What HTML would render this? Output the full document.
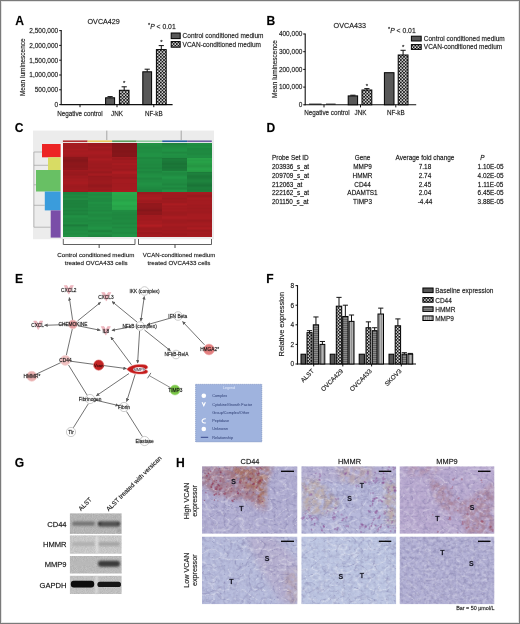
<!DOCTYPE html>
<html><head><meta charset="utf-8"><title>Figure</title>
<style>
html,body{margin:0;padding:0;background:#fff;}
body{width:520px;height:624px;overflow:hidden;}
svg{display:block;}
svg text{font-family:"Liberation Sans",Arial,sans-serif;stroke:#000;stroke-opacity:0.45;stroke-width:0.28px;}
</style></head><body>
<svg width="520" height="624" viewBox="0 0 520 624">
<defs>
<pattern id="chk" patternUnits="userSpaceOnUse" width="3.2" height="3.2"><rect width="3.2" height="3.2" fill="#111"/><rect x="0.15" y="0.15" width="1.5" height="1.5" fill="#f4f4f4"/><rect x="1.75" y="1.75" width="1.5" height="1.5" fill="#f4f4f4"/></pattern>
<pattern id="hln" patternUnits="userSpaceOnUse" width="4" height="2"><rect width="4" height="2" fill="#8a8a8a"/><rect y="1.2" width="4" height="0.8" fill="#5a5a5a"/></pattern>
<pattern id="vln" patternUnits="userSpaceOnUse" width="2" height="4"><rect width="2" height="4" fill="#b5b5b5"/><rect x="1.2" width="0.8" height="4" fill="#888"/></pattern>
</defs>
<rect x="0.5" y="0.5" width="519" height="623" fill="none" stroke="#7a7a7a" stroke-width="1"/>
<rect x="1.5" y="1.5" width="517" height="621" fill="none" stroke="#e4e4e4" stroke-width="1"/>
<text transform="translate(15.20,24.50) scale(0.96,1)" font-size="12.6" font-weight="bold" fill="#000">A</text>
<text x="87.50" y="24.00" font-size="7.2" text-anchor="start" font-weight="normal" fill="#222" >OVCA429</text>
<line x1="61.20" y1="30.10" x2="61.20" y2="105.10" stroke="#111" stroke-width="1.1" />
<line x1="59.20" y1="104.60" x2="61.20" y2="104.60" stroke="#111" stroke-width="1" />
<text x="58.20" y="106.90" font-size="6.5" text-anchor="end" font-weight="normal" fill="#222" >0</text>
<line x1="59.20" y1="89.80" x2="61.20" y2="89.80" stroke="#111" stroke-width="1" />
<text x="58.20" y="92.10" font-size="6.5" text-anchor="end" font-weight="normal" fill="#222" >500,000</text>
<line x1="59.20" y1="75.00" x2="61.20" y2="75.00" stroke="#111" stroke-width="1" />
<text x="58.20" y="77.30" font-size="6.5" text-anchor="end" font-weight="normal" fill="#222" >1,000,000</text>
<line x1="59.20" y1="60.20" x2="61.20" y2="60.20" stroke="#111" stroke-width="1" />
<text x="58.20" y="62.50" font-size="6.5" text-anchor="end" font-weight="normal" fill="#222" >1,500,000</text>
<line x1="59.20" y1="45.40" x2="61.20" y2="45.40" stroke="#111" stroke-width="1" />
<text x="58.20" y="47.70" font-size="6.5" text-anchor="end" font-weight="normal" fill="#222" >2,000,000</text>
<line x1="59.20" y1="30.60" x2="61.20" y2="30.60" stroke="#111" stroke-width="1" />
<text x="58.20" y="32.90" font-size="6.5" text-anchor="end" font-weight="normal" fill="#222" >2,500,000</text>
<line x1="60.60" y1="104.60" x2="172.60" y2="104.60" stroke="#111" stroke-width="1.1" />
<line x1="80.00" y1="104.60" x2="80.00" y2="107.20" stroke="#111" stroke-width="1" />
<line x1="117.00" y1="104.60" x2="117.00" y2="107.20" stroke="#111" stroke-width="1" />
<line x1="153.80" y1="104.60" x2="153.80" y2="107.20" stroke="#111" stroke-width="1" />
<text x="80.00" y="115.60" font-size="6.3" text-anchor="middle" font-weight="normal" fill="#222" >Negative control</text>
<text x="117.00" y="115.60" font-size="6.3" text-anchor="middle" font-weight="normal" fill="#222" >JNK</text>
<text x="153.80" y="115.60" font-size="6.3" text-anchor="middle" font-weight="normal" fill="#222" >NF-kB</text>
<text transform="translate(24.8,67.2) rotate(-90)" font-size="6.5" text-anchor="middle" fill="#222">Mean luminescence</text>
<rect x="105.60" y="97.80" width="9.00" height="6.80" fill="#585858" stroke="#000" stroke-width="1"/>
<line x1="110.10" y1="97.80" x2="110.10" y2="96.60" stroke="#111" stroke-width="1" />
<line x1="107.50" y1="96.60" x2="112.70" y2="96.60" stroke="#111" stroke-width="1" />
<rect x="119.40" y="90.30" width="9.60" height="14.30" fill="url(#chk)" stroke="#000" stroke-width="1"/>
<line x1="124.20" y1="90.30" x2="124.20" y2="86.80" stroke="#111" stroke-width="1" />
<line x1="121.60" y1="86.80" x2="126.80" y2="86.80" stroke="#111" stroke-width="1" />
<rect x="142.80" y="71.80" width="8.80" height="32.80" fill="#585858" stroke="#000" stroke-width="1"/>
<line x1="147.20" y1="71.80" x2="147.20" y2="69.20" stroke="#111" stroke-width="1" />
<line x1="144.60" y1="69.20" x2="149.80" y2="69.20" stroke="#111" stroke-width="1" />
<rect x="156.40" y="49.60" width="9.80" height="55.00" fill="url(#chk)" stroke="#000" stroke-width="1"/>
<line x1="161.30" y1="49.60" x2="161.30" y2="45.60" stroke="#111" stroke-width="1" />
<line x1="158.70" y1="45.60" x2="163.90" y2="45.60" stroke="#111" stroke-width="1" />
<text x="124.20" y="84.80" font-size="6" text-anchor="middle" font-weight="normal" fill="#222" >*</text>
<text x="161.30" y="44.00" font-size="6" text-anchor="middle" font-weight="normal" fill="#222" >*</text>
<rect x="171.20" y="33.00" width="9.00" height="5.60" fill="#585858" stroke="#000" stroke-width="1"/>
<rect x="171.20" y="41.60" width="9.00" height="5.60" fill="url(#chk)" stroke="#000" stroke-width="1"/>
<text x="182.60" y="38.30" font-size="6.5" text-anchor="start" font-weight="normal" fill="#222" >Control conditioned medium</text>
<text x="182.60" y="46.90" font-size="6.5" text-anchor="start" font-weight="normal" fill="#222" >VCAN-conditioned medium</text>
<text x="148.0" y="29.0" font-size="6.8" fill="#222"><tspan font-size="5.5" dy="-1.6">*</tspan><tspan font-style="italic" dy="1.6">P</tspan> &lt; 0.01</text>
<text transform="translate(266.40,24.80) scale(0.96,1)" font-size="12.6" font-weight="bold" fill="#000">B</text>
<text x="333.60" y="27.90" font-size="7.2" text-anchor="start" font-weight="normal" fill="#222" >OVCA433</text>
<line x1="305.20" y1="33.60" x2="305.20" y2="105.30" stroke="#111" stroke-width="1.1" />
<line x1="303.20" y1="104.80" x2="305.20" y2="104.80" stroke="#111" stroke-width="1" />
<text x="302.40" y="107.10" font-size="6.5" text-anchor="end" font-weight="normal" fill="#222" >0</text>
<line x1="303.20" y1="87.10" x2="305.20" y2="87.10" stroke="#111" stroke-width="1" />
<text x="302.40" y="89.40" font-size="6.5" text-anchor="end" font-weight="normal" fill="#222" >100,000</text>
<line x1="303.20" y1="69.40" x2="305.20" y2="69.40" stroke="#111" stroke-width="1" />
<text x="302.40" y="71.70" font-size="6.5" text-anchor="end" font-weight="normal" fill="#222" >200,000</text>
<line x1="303.20" y1="51.70" x2="305.20" y2="51.70" stroke="#111" stroke-width="1" />
<text x="302.40" y="54.00" font-size="6.5" text-anchor="end" font-weight="normal" fill="#222" >300,000</text>
<line x1="303.20" y1="34.00" x2="305.20" y2="34.00" stroke="#111" stroke-width="1" />
<text x="302.40" y="36.30" font-size="6.5" text-anchor="end" font-weight="normal" fill="#222" >400,000</text>
<line x1="304.60" y1="104.80" x2="416.20" y2="104.80" stroke="#111" stroke-width="1.1" />
<line x1="324.00" y1="104.80" x2="324.00" y2="107.40" stroke="#111" stroke-width="1" />
<line x1="360.50" y1="104.80" x2="360.50" y2="107.40" stroke="#111" stroke-width="1" />
<line x1="395.80" y1="104.80" x2="395.80" y2="107.40" stroke="#111" stroke-width="1" />
<text x="327.00" y="115.20" font-size="6.3" text-anchor="middle" font-weight="normal" fill="#222" >Negative control</text>
<text x="360.50" y="115.20" font-size="6.3" text-anchor="middle" font-weight="normal" fill="#222" >JNK</text>
<text x="395.80" y="115.20" font-size="6.3" text-anchor="middle" font-weight="normal" fill="#222" >NF-kB</text>
<text transform="translate(276.7,69.0) rotate(-90)" font-size="6.5" text-anchor="middle" fill="#222">Mean luminescence</text>
<rect x="309.00" y="103.60" width="12.60" height="1.20" fill="#222" />
<rect x="326.00" y="103.60" width="9.60" height="1.20" fill="#222" />
<rect x="348.20" y="95.90" width="9.40" height="8.90" fill="#585858" stroke="#000" stroke-width="1"/>
<line x1="352.90" y1="95.90" x2="352.90" y2="95.20" stroke="#111" stroke-width="1" />
<line x1="350.30" y1="95.20" x2="355.50" y2="95.20" stroke="#111" stroke-width="1" />
<rect x="362.00" y="90.00" width="9.80" height="14.80" fill="url(#chk)" stroke="#000" stroke-width="1"/>
<line x1="366.90" y1="90.00" x2="366.90" y2="88.60" stroke="#111" stroke-width="1" />
<line x1="364.30" y1="88.60" x2="369.50" y2="88.60" stroke="#111" stroke-width="1" />
<rect x="384.40" y="72.70" width="9.60" height="32.10" fill="#585858" stroke="#000" stroke-width="1"/>
<rect x="398.20" y="55.00" width="9.80" height="49.80" fill="url(#chk)" stroke="#000" stroke-width="1"/>
<line x1="403.10" y1="55.00" x2="403.10" y2="50.30" stroke="#111" stroke-width="1" />
<line x1="400.50" y1="50.30" x2="405.70" y2="50.30" stroke="#111" stroke-width="1" />
<text x="367.00" y="88.00" font-size="6" text-anchor="middle" font-weight="normal" fill="#222" >*</text>
<text x="403.10" y="48.60" font-size="6" text-anchor="middle" font-weight="normal" fill="#222" >*</text>
<rect x="411.40" y="36.20" width="9.80" height="4.80" fill="#585858" stroke="#000" stroke-width="1"/>
<rect x="411.40" y="44.60" width="9.80" height="4.80" fill="url(#chk)" stroke="#000" stroke-width="1"/>
<text x="423.80" y="40.90" font-size="6.5" text-anchor="start" font-weight="normal" fill="#222" >Control conditioned medium</text>
<text x="423.80" y="49.30" font-size="6.5" text-anchor="start" font-weight="normal" fill="#222" >VCAN-conditioned medium</text>
<text x="388.0" y="32.8" font-size="6.8" fill="#222"><tspan font-size="5.5" dy="-1.6">*</tspan><tspan font-style="italic" dy="1.6">P</tspan> &lt; 0.01</text>
<text transform="translate(14.80,132.20) scale(0.96,1)" font-size="12.6" font-weight="bold" fill="#000">C</text>
<rect x="33.00" y="130.60" width="181.00" height="108.60" fill="#ececec" />
<line x1="106.80" y1="130.60" x2="106.80" y2="140.20" stroke="#888" stroke-width="0.7" />
<line x1="181.20" y1="130.60" x2="181.20" y2="140.20" stroke="#888" stroke-width="0.7" />
<rect x="62.90" y="140.20" width="148.90" height="3.00" fill="#f2f2f2" />
<rect x="62.90" y="140.40" width="24.70" height="1.70" fill="#b03030" />
<rect x="87.60" y="140.40" width="24.50" height="1.70" fill="#e8c860" />
<rect x="112.10" y="140.40" width="24.50" height="1.70" fill="#60a060" />
<rect x="136.60" y="140.40" width="25.60" height="1.70" fill="#90c8a0" />
<rect x="162.20" y="140.40" width="24.90" height="1.70" fill="#2860a0" />
<rect x="187.10" y="140.40" width="24.70" height="1.70" fill="#7060a0" />
<g shape-rendering="crispEdges">
<rect x="62.90" y="143.20" width="25.10" height="0.80" fill="rgb(165,27,32)" />
<rect x="62.90" y="144.00" width="25.10" height="1.00" fill="rgb(166,27,32)" />
<rect x="62.90" y="145.00" width="25.10" height="1.00" fill="rgb(163,27,32)" />
<rect x="62.90" y="146.00" width="25.10" height="1.00" fill="rgb(164,27,32)" />
<rect x="62.90" y="147.00" width="25.10" height="1.00" fill="rgb(163,27,32)" />
<rect x="62.90" y="148.00" width="25.10" height="1.00" fill="rgb(165,27,32)" />
<rect x="62.90" y="149.00" width="25.10" height="1.00" fill="rgb(169,28,33)" />
<rect x="62.90" y="150.00" width="25.10" height="1.00" fill="rgb(166,27,32)" />
<rect x="62.90" y="151.00" width="25.10" height="1.00" fill="rgb(164,27,32)" />
<rect x="62.90" y="152.00" width="25.10" height="1.00" fill="rgb(167,27,32)" />
<rect x="62.90" y="153.00" width="25.10" height="1.00" fill="rgb(168,27,33)" />
<rect x="62.90" y="154.00" width="25.10" height="1.00" fill="rgb(166,27,32)" />
<rect x="62.90" y="155.00" width="25.10" height="1.00" fill="rgb(163,27,32)" />
<rect x="62.90" y="156.00" width="25.10" height="1.00" fill="rgb(159,26,31)" />
<rect x="62.90" y="157.00" width="25.10" height="1.00" fill="rgb(139,23,27)" />
<rect x="62.90" y="158.00" width="25.10" height="1.00" fill="rgb(139,23,27)" />
<rect x="62.90" y="159.00" width="25.10" height="1.00" fill="rgb(135,22,26)" />
<rect x="62.90" y="160.00" width="25.10" height="1.00" fill="rgb(133,22,26)" />
<rect x="62.90" y="161.00" width="25.10" height="1.00" fill="rgb(135,22,26)" />
<rect x="62.90" y="162.00" width="25.10" height="1.00" fill="rgb(139,23,27)" />
<rect x="62.90" y="163.00" width="25.10" height="1.00" fill="rgb(141,23,27)" />
<rect x="62.90" y="164.00" width="25.10" height="1.00" fill="rgb(142,23,27)" />
<rect x="62.90" y="165.00" width="25.10" height="1.00" fill="rgb(140,23,27)" />
<rect x="62.90" y="166.00" width="25.10" height="1.00" fill="rgb(139,23,27)" />
<rect x="62.90" y="167.00" width="25.10" height="1.00" fill="rgb(141,23,27)" />
<rect x="62.90" y="168.00" width="25.10" height="1.00" fill="rgb(145,24,28)" />
<rect x="62.90" y="169.00" width="25.10" height="1.00" fill="rgb(144,23,28)" />
<rect x="62.90" y="170.00" width="25.10" height="1.00" fill="rgb(160,26,31)" />
<rect x="62.90" y="171.00" width="25.10" height="1.00" fill="rgb(156,25,30)" />
<rect x="62.90" y="172.00" width="25.10" height="1.00" fill="rgb(153,25,30)" />
<rect x="62.90" y="173.00" width="25.10" height="1.00" fill="rgb(153,25,30)" />
<rect x="62.90" y="174.00" width="25.10" height="1.00" fill="rgb(151,25,29)" />
<rect x="62.90" y="175.00" width="25.10" height="1.00" fill="rgb(155,25,30)" />
<rect x="62.90" y="176.00" width="25.10" height="1.00" fill="rgb(160,26,31)" />
<rect x="62.90" y="177.00" width="25.10" height="1.00" fill="rgb(158,26,31)" />
<rect x="62.90" y="178.00" width="25.10" height="1.00" fill="rgb(162,26,31)" />
<rect x="62.90" y="179.00" width="25.10" height="1.00" fill="rgb(165,27,32)" />
<rect x="62.90" y="180.00" width="25.10" height="1.00" fill="rgb(163,27,32)" />
<rect x="62.90" y="181.00" width="25.10" height="1.00" fill="rgb(165,27,32)" />
<rect x="62.90" y="182.00" width="25.10" height="1.00" fill="rgb(167,27,32)" />
<rect x="62.90" y="183.00" width="25.10" height="1.00" fill="rgb(167,27,32)" />
<rect x="62.90" y="184.00" width="25.10" height="1.00" fill="rgb(162,26,31)" />
<rect x="62.90" y="185.00" width="25.10" height="1.00" fill="rgb(159,26,31)" />
<rect x="62.90" y="186.00" width="25.10" height="1.00" fill="rgb(157,26,30)" />
<rect x="62.90" y="187.00" width="25.10" height="1.00" fill="rgb(158,26,31)" />
<rect x="62.90" y="188.00" width="25.10" height="1.00" fill="rgb(159,26,31)" />
<rect x="62.90" y="189.00" width="25.10" height="1.00" fill="rgb(161,26,31)" />
<rect x="62.90" y="190.00" width="25.10" height="1.00" fill="rgb(162,26,31)" />
<rect x="62.90" y="191.00" width="25.10" height="1.00" fill="rgb(156,25,30)" />
<rect x="62.90" y="192.00" width="25.10" height="1.00" fill="rgb(30,132,62)" />
<rect x="62.90" y="193.00" width="25.10" height="1.00" fill="rgb(30,131,62)" />
<rect x="62.90" y="194.00" width="25.10" height="1.00" fill="rgb(30,134,63)" />
<rect x="62.90" y="195.00" width="25.10" height="1.00" fill="rgb(31,138,65)" />
<rect x="62.90" y="196.00" width="25.10" height="1.00" fill="rgb(30,134,63)" />
<rect x="62.90" y="197.00" width="25.10" height="1.00" fill="rgb(30,134,63)" />
<rect x="62.90" y="198.00" width="25.10" height="1.00" fill="rgb(32,140,66)" />
<rect x="62.90" y="199.00" width="25.10" height="1.00" fill="rgb(32,141,66)" />
<rect x="62.90" y="200.00" width="25.10" height="1.00" fill="rgb(29,129,61)" />
<rect x="62.90" y="201.00" width="25.10" height="1.00" fill="rgb(29,130,61)" />
<rect x="62.90" y="202.00" width="25.10" height="1.00" fill="rgb(29,130,61)" />
<rect x="62.90" y="203.00" width="25.10" height="1.00" fill="rgb(29,129,60)" />
<rect x="62.90" y="204.00" width="25.10" height="1.00" fill="rgb(29,130,61)" />
<rect x="62.90" y="205.00" width="25.10" height="1.00" fill="rgb(29,130,61)" />
<rect x="62.90" y="206.00" width="25.10" height="1.00" fill="rgb(29,129,60)" />
<rect x="62.90" y="207.00" width="25.10" height="1.00" fill="rgb(29,130,61)" />
<rect x="62.90" y="208.00" width="25.10" height="1.00" fill="rgb(30,135,63)" />
<rect x="62.90" y="209.00" width="25.10" height="1.00" fill="rgb(30,134,63)" />
<rect x="62.90" y="210.00" width="25.10" height="1.00" fill="rgb(29,129,61)" />
<rect x="62.90" y="211.00" width="25.10" height="1.00" fill="rgb(30,133,63)" />
<rect x="62.90" y="212.00" width="25.10" height="1.00" fill="rgb(31,135,64)" />
<rect x="62.90" y="213.00" width="25.10" height="1.00" fill="rgb(30,132,62)" />
<rect x="62.90" y="214.00" width="25.10" height="1.00" fill="rgb(29,131,61)" />
<rect x="62.90" y="215.00" width="25.10" height="1.00" fill="rgb(32,141,66)" />
<rect x="62.90" y="216.00" width="25.10" height="1.00" fill="rgb(33,144,68)" />
<rect x="62.90" y="217.00" width="25.10" height="1.00" fill="rgb(32,142,67)" />
<rect x="62.90" y="218.00" width="25.10" height="1.00" fill="rgb(31,139,65)" />
<rect x="62.90" y="219.00" width="25.10" height="1.00" fill="rgb(31,138,65)" />
<rect x="62.90" y="220.00" width="25.10" height="1.00" fill="rgb(31,138,65)" />
<rect x="62.90" y="221.00" width="25.10" height="1.00" fill="rgb(31,137,64)" />
<rect x="62.90" y="222.00" width="25.10" height="1.00" fill="rgb(32,140,66)" />
<rect x="62.90" y="223.00" width="25.10" height="1.00" fill="rgb(32,142,66)" />
<rect x="62.90" y="224.00" width="25.10" height="1.00" fill="rgb(30,131,62)" />
<rect x="62.90" y="225.00" width="25.10" height="1.00" fill="rgb(28,125,59)" />
<rect x="62.90" y="226.00" width="25.10" height="1.00" fill="rgb(30,133,63)" />
<rect x="62.90" y="227.00" width="25.10" height="1.00" fill="rgb(31,139,65)" />
<rect x="62.90" y="228.00" width="25.10" height="1.00" fill="rgb(32,140,66)" />
<rect x="62.90" y="229.00" width="25.10" height="1.00" fill="rgb(31,139,65)" />
<rect x="62.90" y="230.00" width="25.10" height="1.00" fill="rgb(31,139,65)" />
<rect x="62.90" y="231.00" width="25.10" height="1.00" fill="rgb(32,142,67)" />
<rect x="62.90" y="232.00" width="25.10" height="1.00" fill="rgb(32,142,67)" />
<rect x="62.90" y="233.00" width="25.10" height="1.00" fill="rgb(31,139,65)" />
<rect x="62.90" y="234.00" width="25.10" height="1.00" fill="rgb(32,141,66)" />
<rect x="62.90" y="235.00" width="25.10" height="1.00" fill="rgb(33,146,68)" />
<rect x="62.90" y="236.00" width="25.10" height="1.00" fill="rgb(32,143,67)" />
<rect x="62.90" y="237.00" width="25.10" height="0.30" fill="rgb(32,141,66)" />
<rect x="87.60" y="143.20" width="24.90" height="0.80" fill="rgb(156,25,30)" />
<rect x="87.60" y="144.00" width="24.90" height="1.00" fill="rgb(155,25,30)" />
<rect x="87.60" y="145.00" width="24.90" height="1.00" fill="rgb(155,25,30)" />
<rect x="87.60" y="146.00" width="24.90" height="1.00" fill="rgb(160,26,31)" />
<rect x="87.60" y="147.00" width="24.90" height="1.00" fill="rgb(165,27,32)" />
<rect x="87.60" y="148.00" width="24.90" height="1.00" fill="rgb(160,26,31)" />
<rect x="87.60" y="149.00" width="24.90" height="1.00" fill="rgb(158,26,31)" />
<rect x="87.60" y="150.00" width="24.90" height="1.00" fill="rgb(162,26,31)" />
<rect x="87.60" y="151.00" width="24.90" height="1.00" fill="rgb(166,27,32)" />
<rect x="87.60" y="152.00" width="24.90" height="1.00" fill="rgb(168,27,33)" />
<rect x="87.60" y="153.00" width="24.90" height="1.00" fill="rgb(168,27,33)" />
<rect x="87.60" y="154.00" width="24.90" height="1.00" fill="rgb(164,27,32)" />
<rect x="87.60" y="155.00" width="24.90" height="1.00" fill="rgb(162,26,31)" />
<rect x="87.60" y="156.00" width="24.90" height="1.00" fill="rgb(160,26,31)" />
<rect x="87.60" y="157.00" width="24.90" height="1.00" fill="rgb(159,26,31)" />
<rect x="87.60" y="158.00" width="24.90" height="1.00" fill="rgb(165,27,32)" />
<rect x="87.60" y="159.00" width="24.90" height="1.00" fill="rgb(169,28,33)" />
<rect x="87.60" y="160.00" width="24.90" height="1.00" fill="rgb(165,27,32)" />
<rect x="87.60" y="161.00" width="24.90" height="1.00" fill="rgb(161,26,31)" />
<rect x="87.60" y="162.00" width="24.90" height="1.00" fill="rgb(160,26,31)" />
<rect x="87.60" y="163.00" width="24.90" height="1.00" fill="rgb(158,26,31)" />
<rect x="87.60" y="164.00" width="24.90" height="1.00" fill="rgb(157,26,30)" />
<rect x="87.60" y="165.00" width="24.90" height="1.00" fill="rgb(158,26,31)" />
<rect x="87.60" y="166.00" width="24.90" height="1.00" fill="rgb(158,26,31)" />
<rect x="87.60" y="167.00" width="24.90" height="1.00" fill="rgb(156,25,30)" />
<rect x="87.60" y="168.00" width="24.90" height="1.00" fill="rgb(157,26,30)" />
<rect x="87.60" y="169.00" width="24.90" height="1.00" fill="rgb(161,26,31)" />
<rect x="87.60" y="170.00" width="24.90" height="1.00" fill="rgb(161,26,31)" />
<rect x="87.60" y="171.00" width="24.90" height="1.00" fill="rgb(154,25,30)" />
<rect x="87.60" y="172.00" width="24.90" height="1.00" fill="rgb(152,25,29)" />
<rect x="87.60" y="173.00" width="24.90" height="1.00" fill="rgb(160,26,31)" />
<rect x="87.60" y="174.00" width="24.90" height="1.00" fill="rgb(165,27,32)" />
<rect x="87.60" y="175.00" width="24.90" height="1.00" fill="rgb(161,26,31)" />
<rect x="87.60" y="176.00" width="24.90" height="1.00" fill="rgb(150,24,29)" />
<rect x="87.60" y="177.00" width="24.90" height="1.00" fill="rgb(153,25,30)" />
<rect x="87.60" y="178.00" width="24.90" height="1.00" fill="rgb(154,25,30)" />
<rect x="87.60" y="179.00" width="24.90" height="1.00" fill="rgb(154,25,30)" />
<rect x="87.60" y="180.00" width="24.90" height="1.00" fill="rgb(156,25,30)" />
<rect x="87.60" y="181.00" width="24.90" height="1.00" fill="rgb(157,26,30)" />
<rect x="87.60" y="182.00" width="24.90" height="1.00" fill="rgb(157,26,30)" />
<rect x="87.60" y="183.00" width="24.90" height="1.00" fill="rgb(156,25,30)" />
<rect x="87.60" y="184.00" width="24.90" height="1.00" fill="rgb(151,25,29)" />
<rect x="87.60" y="185.00" width="24.90" height="1.00" fill="rgb(148,24,29)" />
<rect x="87.60" y="186.00" width="24.90" height="1.00" fill="rgb(149,24,29)" />
<rect x="87.60" y="187.00" width="24.90" height="1.00" fill="rgb(153,25,30)" />
<rect x="87.60" y="188.00" width="24.90" height="1.00" fill="rgb(157,26,30)" />
<rect x="87.60" y="189.00" width="24.90" height="1.00" fill="rgb(155,25,30)" />
<rect x="87.60" y="190.00" width="24.90" height="1.00" fill="rgb(153,25,30)" />
<rect x="87.60" y="191.00" width="24.90" height="1.00" fill="rgb(165,27,32)" />
<rect x="87.60" y="192.00" width="24.90" height="1.00" fill="rgb(32,143,67)" />
<rect x="87.60" y="193.00" width="24.90" height="1.00" fill="rgb(32,140,66)" />
<rect x="87.60" y="194.00" width="24.90" height="1.00" fill="rgb(31,137,64)" />
<rect x="87.60" y="195.00" width="24.90" height="1.00" fill="rgb(31,139,65)" />
<rect x="87.60" y="196.00" width="24.90" height="1.00" fill="rgb(32,142,67)" />
<rect x="87.60" y="197.00" width="24.90" height="1.00" fill="rgb(32,141,66)" />
<rect x="87.60" y="198.00" width="24.90" height="1.00" fill="rgb(31,138,65)" />
<rect x="87.60" y="199.00" width="24.90" height="1.00" fill="rgb(31,138,65)" />
<rect x="87.60" y="200.00" width="24.90" height="1.00" fill="rgb(31,137,65)" />
<rect x="87.60" y="201.00" width="24.90" height="1.00" fill="rgb(31,138,65)" />
<rect x="87.60" y="202.00" width="24.90" height="1.00" fill="rgb(32,144,67)" />
<rect x="87.60" y="203.00" width="24.90" height="1.00" fill="rgb(32,143,67)" />
<rect x="87.60" y="204.00" width="24.90" height="1.00" fill="rgb(31,139,65)" />
<rect x="87.60" y="205.00" width="24.90" height="1.00" fill="rgb(31,139,65)" />
<rect x="87.60" y="206.00" width="24.90" height="1.00" fill="rgb(32,140,66)" />
<rect x="87.60" y="207.00" width="24.90" height="1.00" fill="rgb(31,138,65)" />
<rect x="87.60" y="208.00" width="24.90" height="1.00" fill="rgb(31,139,65)" />
<rect x="87.60" y="209.00" width="24.90" height="1.00" fill="rgb(31,139,65)" />
<rect x="87.60" y="210.00" width="24.90" height="1.00" fill="rgb(31,135,64)" />
<rect x="87.60" y="211.00" width="24.90" height="1.00" fill="rgb(31,139,65)" />
<rect x="87.60" y="212.00" width="24.90" height="1.00" fill="rgb(32,143,67)" />
<rect x="87.60" y="213.00" width="24.90" height="1.00" fill="rgb(32,140,66)" />
<rect x="87.60" y="214.00" width="24.90" height="1.00" fill="rgb(31,137,64)" />
<rect x="87.60" y="215.00" width="24.90" height="1.00" fill="rgb(31,137,64)" />
<rect x="87.60" y="216.00" width="24.90" height="1.00" fill="rgb(31,138,65)" />
<rect x="87.60" y="217.00" width="24.90" height="1.00" fill="rgb(32,141,66)" />
<rect x="87.60" y="218.00" width="24.90" height="1.00" fill="rgb(32,143,67)" />
<rect x="87.60" y="219.00" width="24.90" height="1.00" fill="rgb(32,140,66)" />
<rect x="87.60" y="220.00" width="24.90" height="1.00" fill="rgb(31,136,64)" />
<rect x="87.60" y="221.00" width="24.90" height="1.00" fill="rgb(31,138,65)" />
<rect x="87.60" y="222.00" width="24.90" height="1.00" fill="rgb(32,140,66)" />
<rect x="87.60" y="223.00" width="24.90" height="1.00" fill="rgb(31,139,65)" />
<rect x="87.60" y="224.00" width="24.90" height="1.00" fill="rgb(32,140,66)" />
<rect x="87.60" y="225.00" width="24.90" height="1.00" fill="rgb(32,141,66)" />
<rect x="87.60" y="226.00" width="24.90" height="1.00" fill="rgb(32,143,67)" />
<rect x="87.60" y="227.00" width="24.90" height="1.00" fill="rgb(33,147,69)" />
<rect x="87.60" y="228.00" width="24.90" height="1.00" fill="rgb(33,147,69)" />
<rect x="87.60" y="229.00" width="24.90" height="1.00" fill="rgb(32,143,67)" />
<rect x="87.60" y="230.00" width="24.90" height="1.00" fill="rgb(30,133,62)" />
<rect x="87.60" y="231.00" width="24.90" height="1.00" fill="rgb(30,131,61)" />
<rect x="87.60" y="232.00" width="24.90" height="1.00" fill="rgb(32,140,66)" />
<rect x="87.60" y="233.00" width="24.90" height="1.00" fill="rgb(32,143,67)" />
<rect x="87.60" y="234.00" width="24.90" height="1.00" fill="rgb(31,139,65)" />
<rect x="87.60" y="235.00" width="24.90" height="1.00" fill="rgb(31,136,64)" />
<rect x="87.60" y="236.00" width="24.90" height="1.00" fill="rgb(30,132,62)" />
<rect x="87.60" y="237.00" width="24.90" height="0.30" fill="rgb(30,133,62)" />
<rect x="112.10" y="143.20" width="24.90" height="0.80" fill="rgb(126,20,24)" />
<rect x="112.10" y="144.00" width="24.90" height="1.00" fill="rgb(128,21,25)" />
<rect x="112.10" y="145.00" width="24.90" height="1.00" fill="rgb(129,21,25)" />
<rect x="112.10" y="146.00" width="24.90" height="1.00" fill="rgb(131,21,25)" />
<rect x="112.10" y="147.00" width="24.90" height="1.00" fill="rgb(132,21,25)" />
<rect x="112.10" y="148.00" width="24.90" height="1.00" fill="rgb(132,21,26)" />
<rect x="112.10" y="149.00" width="24.90" height="1.00" fill="rgb(133,22,26)" />
<rect x="112.10" y="150.00" width="24.90" height="1.00" fill="rgb(131,21,25)" />
<rect x="112.10" y="151.00" width="24.90" height="1.00" fill="rgb(130,21,25)" />
<rect x="112.10" y="152.00" width="24.90" height="1.00" fill="rgb(132,21,25)" />
<rect x="112.10" y="153.00" width="24.90" height="1.00" fill="rgb(134,22,26)" />
<rect x="112.10" y="154.00" width="24.90" height="1.00" fill="rgb(133,22,26)" />
<rect x="112.10" y="155.00" width="24.90" height="1.00" fill="rgb(132,22,26)" />
<rect x="112.10" y="156.00" width="24.90" height="1.00" fill="rgb(132,21,25)" />
<rect x="112.10" y="157.00" width="24.90" height="1.00" fill="rgb(160,26,31)" />
<rect x="112.10" y="158.00" width="24.90" height="1.00" fill="rgb(154,25,30)" />
<rect x="112.10" y="159.00" width="24.90" height="1.00" fill="rgb(155,25,30)" />
<rect x="112.10" y="160.00" width="24.90" height="1.00" fill="rgb(162,26,31)" />
<rect x="112.10" y="161.00" width="24.90" height="1.00" fill="rgb(161,26,31)" />
<rect x="112.10" y="162.00" width="24.90" height="1.00" fill="rgb(159,26,31)" />
<rect x="112.10" y="163.00" width="24.90" height="1.00" fill="rgb(165,27,32)" />
<rect x="112.10" y="164.00" width="24.90" height="1.00" fill="rgb(167,27,32)" />
<rect x="112.10" y="165.00" width="24.90" height="1.00" fill="rgb(160,26,31)" />
<rect x="112.10" y="166.00" width="24.90" height="1.00" fill="rgb(160,26,31)" />
<rect x="112.10" y="167.00" width="24.90" height="1.00" fill="rgb(162,26,31)" />
<rect x="112.10" y="168.00" width="24.90" height="1.00" fill="rgb(160,26,31)" />
<rect x="112.10" y="169.00" width="24.90" height="1.00" fill="rgb(156,25,30)" />
<rect x="112.10" y="170.00" width="24.90" height="1.00" fill="rgb(159,26,31)" />
<rect x="112.10" y="171.00" width="24.90" height="1.00" fill="rgb(168,27,33)" />
<rect x="112.10" y="172.00" width="24.90" height="1.00" fill="rgb(173,28,33)" />
<rect x="112.10" y="173.00" width="24.90" height="1.00" fill="rgb(170,28,33)" />
<rect x="112.10" y="174.00" width="24.90" height="1.00" fill="rgb(162,26,31)" />
<rect x="112.10" y="175.00" width="24.90" height="1.00" fill="rgb(161,26,31)" />
<rect x="112.10" y="176.00" width="24.90" height="1.00" fill="rgb(160,26,31)" />
<rect x="112.10" y="177.00" width="24.90" height="1.00" fill="rgb(155,25,30)" />
<rect x="112.10" y="178.00" width="24.90" height="1.00" fill="rgb(156,25,30)" />
<rect x="112.10" y="179.00" width="24.90" height="1.00" fill="rgb(163,27,32)" />
<rect x="112.10" y="180.00" width="24.90" height="1.00" fill="rgb(165,27,32)" />
<rect x="112.10" y="181.00" width="24.90" height="1.00" fill="rgb(165,27,32)" />
<rect x="112.10" y="182.00" width="24.90" height="1.00" fill="rgb(165,27,32)" />
<rect x="112.10" y="183.00" width="24.90" height="1.00" fill="rgb(162,26,31)" />
<rect x="112.10" y="184.00" width="24.90" height="1.00" fill="rgb(163,27,32)" />
<rect x="112.10" y="185.00" width="24.90" height="1.00" fill="rgb(163,27,32)" />
<rect x="112.10" y="186.00" width="24.90" height="1.00" fill="rgb(163,27,32)" />
<rect x="112.10" y="187.00" width="24.90" height="1.00" fill="rgb(165,27,32)" />
<rect x="112.10" y="188.00" width="24.90" height="1.00" fill="rgb(165,27,32)" />
<rect x="112.10" y="189.00" width="24.90" height="1.00" fill="rgb(164,27,32)" />
<rect x="112.10" y="190.00" width="24.90" height="1.00" fill="rgb(168,27,32)" />
<rect x="112.10" y="191.00" width="24.90" height="1.00" fill="rgb(170,28,33)" />
<rect x="112.10" y="192.00" width="24.90" height="1.00" fill="rgb(41,170,75)" />
<rect x="112.10" y="193.00" width="24.90" height="1.00" fill="rgb(41,170,75)" />
<rect x="112.10" y="194.00" width="24.90" height="1.00" fill="rgb(40,169,75)" />
<rect x="112.10" y="195.00" width="24.90" height="1.00" fill="rgb(40,167,74)" />
<rect x="112.10" y="196.00" width="24.90" height="1.00" fill="rgb(40,166,74)" />
<rect x="112.10" y="197.00" width="24.90" height="1.00" fill="rgb(40,166,74)" />
<rect x="112.10" y="198.00" width="24.90" height="1.00" fill="rgb(40,167,74)" />
<rect x="112.10" y="199.00" width="24.90" height="1.00" fill="rgb(39,164,73)" />
<rect x="112.10" y="200.00" width="24.90" height="1.00" fill="rgb(39,163,72)" />
<rect x="112.10" y="201.00" width="24.90" height="1.00" fill="rgb(40,167,74)" />
<rect x="112.10" y="202.00" width="24.90" height="1.00" fill="rgb(41,171,76)" />
<rect x="112.10" y="203.00" width="24.90" height="1.00" fill="rgb(41,172,76)" />
<rect x="112.10" y="204.00" width="24.90" height="1.00" fill="rgb(41,170,76)" />
<rect x="112.10" y="205.00" width="24.90" height="1.00" fill="rgb(39,165,73)" />
<rect x="112.10" y="206.00" width="24.90" height="1.00" fill="rgb(39,163,72)" />
<rect x="112.10" y="207.00" width="24.90" height="1.00" fill="rgb(40,166,74)" />
<rect x="112.10" y="208.00" width="24.90" height="1.00" fill="rgb(40,166,74)" />
<rect x="112.10" y="209.00" width="24.90" height="1.00" fill="rgb(39,164,73)" />
<rect x="112.10" y="210.00" width="24.90" height="1.00" fill="rgb(32,141,66)" />
<rect x="112.10" y="211.00" width="24.90" height="1.00" fill="rgb(32,140,66)" />
<rect x="112.10" y="212.00" width="24.90" height="1.00" fill="rgb(31,137,65)" />
<rect x="112.10" y="213.00" width="24.90" height="1.00" fill="rgb(31,137,64)" />
<rect x="112.10" y="214.00" width="24.90" height="1.00" fill="rgb(30,135,63)" />
<rect x="112.10" y="215.00" width="24.90" height="1.00" fill="rgb(31,135,64)" />
<rect x="112.10" y="216.00" width="24.90" height="1.00" fill="rgb(31,137,64)" />
<rect x="112.10" y="217.00" width="24.90" height="1.00" fill="rgb(31,135,64)" />
<rect x="112.10" y="218.00" width="24.90" height="1.00" fill="rgb(30,135,63)" />
<rect x="112.10" y="219.00" width="24.90" height="1.00" fill="rgb(31,136,64)" />
<rect x="112.10" y="220.00" width="24.90" height="1.00" fill="rgb(31,139,65)" />
<rect x="112.10" y="221.00" width="24.90" height="1.00" fill="rgb(31,139,65)" />
<rect x="112.10" y="222.00" width="24.90" height="1.00" fill="rgb(31,137,64)" />
<rect x="112.10" y="223.00" width="24.90" height="1.00" fill="rgb(30,135,63)" />
<rect x="112.10" y="224.00" width="24.90" height="1.00" fill="rgb(31,138,65)" />
<rect x="112.10" y="225.00" width="24.90" height="1.00" fill="rgb(32,143,67)" />
<rect x="112.10" y="226.00" width="24.90" height="1.00" fill="rgb(32,140,66)" />
<rect x="112.10" y="227.00" width="24.90" height="1.00" fill="rgb(31,136,64)" />
<rect x="112.10" y="228.00" width="24.90" height="1.00" fill="rgb(32,141,66)" />
<rect x="112.10" y="229.00" width="24.90" height="1.00" fill="rgb(32,143,67)" />
<rect x="112.10" y="230.00" width="24.90" height="1.00" fill="rgb(32,142,67)" />
<rect x="112.10" y="231.00" width="24.90" height="1.00" fill="rgb(32,142,67)" />
<rect x="112.10" y="232.00" width="24.90" height="1.00" fill="rgb(31,138,65)" />
<rect x="112.10" y="233.00" width="24.90" height="1.00" fill="rgb(31,139,65)" />
<rect x="112.10" y="234.00" width="24.90" height="1.00" fill="rgb(33,145,68)" />
<rect x="112.10" y="235.00" width="24.90" height="1.00" fill="rgb(33,147,69)" />
<rect x="112.10" y="236.00" width="24.90" height="1.00" fill="rgb(32,144,68)" />
<rect x="112.10" y="237.00" width="24.90" height="0.30" fill="rgb(31,135,64)" />
<rect x="136.60" y="143.20" width="26.00" height="0.80" fill="rgb(33,146,68)" />
<rect x="136.60" y="144.00" width="26.00" height="1.00" fill="rgb(33,145,68)" />
<rect x="136.60" y="145.00" width="26.00" height="1.00" fill="rgb(32,143,67)" />
<rect x="136.60" y="146.00" width="26.00" height="1.00" fill="rgb(32,141,66)" />
<rect x="136.60" y="147.00" width="26.00" height="1.00" fill="rgb(31,139,65)" />
<rect x="136.60" y="148.00" width="26.00" height="1.00" fill="rgb(31,139,65)" />
<rect x="136.60" y="149.00" width="26.00" height="1.00" fill="rgb(32,141,66)" />
<rect x="136.60" y="150.00" width="26.00" height="1.00" fill="rgb(32,142,66)" />
<rect x="136.60" y="151.00" width="26.00" height="1.00" fill="rgb(32,141,66)" />
<rect x="136.60" y="152.00" width="26.00" height="1.00" fill="rgb(32,142,67)" />
<rect x="136.60" y="153.00" width="26.00" height="1.00" fill="rgb(33,145,68)" />
<rect x="136.60" y="154.00" width="26.00" height="1.00" fill="rgb(33,146,68)" />
<rect x="136.60" y="155.00" width="26.00" height="1.00" fill="rgb(33,146,69)" />
<rect x="136.60" y="156.00" width="26.00" height="1.00" fill="rgb(33,145,68)" />
<rect x="136.60" y="157.00" width="26.00" height="1.00" fill="rgb(31,136,64)" />
<rect x="136.60" y="158.00" width="26.00" height="1.00" fill="rgb(30,135,63)" />
<rect x="136.60" y="159.00" width="26.00" height="1.00" fill="rgb(32,140,66)" />
<rect x="136.60" y="160.00" width="26.00" height="1.00" fill="rgb(32,140,66)" />
<rect x="136.60" y="161.00" width="26.00" height="1.00" fill="rgb(31,139,65)" />
<rect x="136.60" y="162.00" width="26.00" height="1.00" fill="rgb(31,139,65)" />
<rect x="136.60" y="163.00" width="26.00" height="1.00" fill="rgb(31,138,65)" />
<rect x="136.60" y="164.00" width="26.00" height="1.00" fill="rgb(31,136,64)" />
<rect x="136.60" y="165.00" width="26.00" height="1.00" fill="rgb(31,137,64)" />
<rect x="136.60" y="166.00" width="26.00" height="1.00" fill="rgb(31,138,65)" />
<rect x="136.60" y="167.00" width="26.00" height="1.00" fill="rgb(30,135,63)" />
<rect x="136.60" y="168.00" width="26.00" height="1.00" fill="rgb(30,133,63)" />
<rect x="136.60" y="169.00" width="26.00" height="1.00" fill="rgb(31,139,65)" />
<rect x="136.60" y="170.00" width="26.00" height="1.00" fill="rgb(31,139,65)" />
<rect x="136.60" y="171.00" width="26.00" height="1.00" fill="rgb(30,133,63)" />
<rect x="136.60" y="172.00" width="26.00" height="1.00" fill="rgb(30,135,63)" />
<rect x="136.60" y="173.00" width="26.00" height="1.00" fill="rgb(31,139,65)" />
<rect x="136.60" y="174.00" width="26.00" height="1.00" fill="rgb(32,142,66)" />
<rect x="136.60" y="175.00" width="26.00" height="1.00" fill="rgb(32,143,67)" />
<rect x="136.60" y="176.00" width="26.00" height="1.00" fill="rgb(33,144,68)" />
<rect x="136.60" y="177.00" width="26.00" height="1.00" fill="rgb(32,140,66)" />
<rect x="136.60" y="178.00" width="26.00" height="1.00" fill="rgb(31,135,64)" />
<rect x="136.60" y="179.00" width="26.00" height="1.00" fill="rgb(31,137,64)" />
<rect x="136.60" y="180.00" width="26.00" height="1.00" fill="rgb(32,140,66)" />
<rect x="136.60" y="181.00" width="26.00" height="1.00" fill="rgb(32,140,66)" />
<rect x="136.60" y="182.00" width="26.00" height="1.00" fill="rgb(32,143,67)" />
<rect x="136.60" y="183.00" width="26.00" height="1.00" fill="rgb(33,145,68)" />
<rect x="136.60" y="184.00" width="26.00" height="1.00" fill="rgb(33,145,68)" />
<rect x="136.60" y="185.00" width="26.00" height="1.00" fill="rgb(32,143,67)" />
<rect x="136.60" y="186.00" width="26.00" height="1.00" fill="rgb(32,141,66)" />
<rect x="136.60" y="187.00" width="26.00" height="1.00" fill="rgb(31,138,65)" />
<rect x="136.60" y="188.00" width="26.00" height="1.00" fill="rgb(31,137,64)" />
<rect x="136.60" y="189.00" width="26.00" height="1.00" fill="rgb(30,134,63)" />
<rect x="136.60" y="190.00" width="26.00" height="1.00" fill="rgb(30,133,62)" />
<rect x="136.60" y="191.00" width="26.00" height="1.00" fill="rgb(30,134,63)" />
<rect x="136.60" y="192.00" width="26.00" height="1.00" fill="rgb(155,25,30)" />
<rect x="136.60" y="193.00" width="26.00" height="1.00" fill="rgb(156,25,30)" />
<rect x="136.60" y="194.00" width="26.00" height="1.00" fill="rgb(161,26,31)" />
<rect x="136.60" y="195.00" width="26.00" height="1.00" fill="rgb(164,27,32)" />
<rect x="136.60" y="196.00" width="26.00" height="1.00" fill="rgb(165,27,32)" />
<rect x="136.60" y="197.00" width="26.00" height="1.00" fill="rgb(169,28,33)" />
<rect x="136.60" y="198.00" width="26.00" height="1.00" fill="rgb(170,28,33)" />
<rect x="136.60" y="199.00" width="26.00" height="1.00" fill="rgb(167,27,32)" />
<rect x="136.60" y="200.00" width="26.00" height="1.00" fill="rgb(159,26,31)" />
<rect x="136.60" y="201.00" width="26.00" height="1.00" fill="rgb(157,26,30)" />
<rect x="136.60" y="202.00" width="26.00" height="1.00" fill="rgb(162,26,31)" />
<rect x="136.60" y="203.00" width="26.00" height="1.00" fill="rgb(146,24,28)" />
<rect x="136.60" y="204.00" width="26.00" height="1.00" fill="rgb(146,24,28)" />
<rect x="136.60" y="205.00" width="26.00" height="1.00" fill="rgb(147,24,29)" />
<rect x="136.60" y="206.00" width="26.00" height="1.00" fill="rgb(147,24,28)" />
<rect x="136.60" y="207.00" width="26.00" height="1.00" fill="rgb(145,24,28)" />
<rect x="136.60" y="208.00" width="26.00" height="1.00" fill="rgb(143,23,28)" />
<rect x="136.60" y="209.00" width="26.00" height="1.00" fill="rgb(137,22,27)" />
<rect x="136.60" y="210.00" width="26.00" height="1.00" fill="rgb(133,22,26)" />
<rect x="136.60" y="211.00" width="26.00" height="1.00" fill="rgb(140,23,27)" />
<rect x="136.60" y="212.00" width="26.00" height="1.00" fill="rgb(144,23,28)" />
<rect x="136.60" y="213.00" width="26.00" height="1.00" fill="rgb(142,23,27)" />
<rect x="136.60" y="214.00" width="26.00" height="1.00" fill="rgb(142,23,28)" />
<rect x="136.60" y="215.00" width="26.00" height="1.00" fill="rgb(161,26,31)" />
<rect x="136.60" y="216.00" width="26.00" height="1.00" fill="rgb(160,26,31)" />
<rect x="136.60" y="217.00" width="26.00" height="1.00" fill="rgb(162,26,31)" />
<rect x="136.60" y="218.00" width="26.00" height="1.00" fill="rgb(162,26,31)" />
<rect x="136.60" y="219.00" width="26.00" height="1.00" fill="rgb(160,26,31)" />
<rect x="136.60" y="220.00" width="26.00" height="1.00" fill="rgb(162,26,31)" />
<rect x="136.60" y="221.00" width="26.00" height="1.00" fill="rgb(166,27,32)" />
<rect x="136.60" y="222.00" width="26.00" height="1.00" fill="rgb(165,27,32)" />
<rect x="136.60" y="223.00" width="26.00" height="1.00" fill="rgb(164,27,32)" />
<rect x="136.60" y="224.00" width="26.00" height="1.00" fill="rgb(170,28,33)" />
<rect x="136.60" y="225.00" width="26.00" height="1.00" fill="rgb(177,29,34)" />
<rect x="136.60" y="226.00" width="26.00" height="1.00" fill="rgb(172,28,33)" />
<rect x="136.60" y="227.00" width="26.00" height="1.00" fill="rgb(162,26,31)" />
<rect x="136.60" y="228.00" width="26.00" height="1.00" fill="rgb(157,26,30)" />
<rect x="136.60" y="229.00" width="26.00" height="1.00" fill="rgb(157,26,30)" />
<rect x="136.60" y="230.00" width="26.00" height="1.00" fill="rgb(161,26,31)" />
<rect x="136.60" y="231.00" width="26.00" height="1.00" fill="rgb(163,27,32)" />
<rect x="136.60" y="232.00" width="26.00" height="1.00" fill="rgb(156,25,30)" />
<rect x="136.60" y="233.00" width="26.00" height="1.00" fill="rgb(155,25,30)" />
<rect x="136.60" y="234.00" width="26.00" height="1.00" fill="rgb(161,26,31)" />
<rect x="136.60" y="235.00" width="26.00" height="1.00" fill="rgb(164,27,32)" />
<rect x="136.60" y="236.00" width="26.00" height="1.00" fill="rgb(160,26,31)" />
<rect x="136.60" y="237.00" width="26.00" height="0.30" fill="rgb(155,25,30)" />
<rect x="162.20" y="143.20" width="25.30" height="0.80" fill="rgb(29,131,61)" />
<rect x="162.20" y="144.00" width="25.30" height="1.00" fill="rgb(30,131,62)" />
<rect x="162.20" y="145.00" width="25.30" height="1.00" fill="rgb(31,136,64)" />
<rect x="162.20" y="146.00" width="25.30" height="1.00" fill="rgb(31,139,65)" />
<rect x="162.20" y="147.00" width="25.30" height="1.00" fill="rgb(32,141,66)" />
<rect x="162.20" y="148.00" width="25.30" height="1.00" fill="rgb(32,143,67)" />
<rect x="162.20" y="149.00" width="25.30" height="1.00" fill="rgb(33,145,68)" />
<rect x="162.20" y="150.00" width="25.30" height="1.00" fill="rgb(33,147,69)" />
<rect x="162.20" y="151.00" width="25.30" height="1.00" fill="rgb(32,143,67)" />
<rect x="162.20" y="152.00" width="25.30" height="1.00" fill="rgb(31,136,64)" />
<rect x="162.20" y="153.00" width="25.30" height="1.00" fill="rgb(32,140,66)" />
<rect x="162.20" y="154.00" width="25.30" height="1.00" fill="rgb(33,145,68)" />
<rect x="162.20" y="155.00" width="25.30" height="1.00" fill="rgb(32,143,67)" />
<rect x="162.20" y="156.00" width="25.30" height="1.00" fill="rgb(32,142,67)" />
<rect x="162.20" y="157.00" width="25.30" height="1.00" fill="rgb(32,140,66)" />
<rect x="162.20" y="158.00" width="25.30" height="1.00" fill="rgb(27,119,56)" />
<rect x="162.20" y="159.00" width="25.30" height="1.00" fill="rgb(28,124,58)" />
<rect x="162.20" y="160.00" width="25.30" height="1.00" fill="rgb(28,123,58)" />
<rect x="162.20" y="161.00" width="25.30" height="1.00" fill="rgb(27,120,57)" />
<rect x="162.20" y="162.00" width="25.30" height="1.00" fill="rgb(27,119,56)" />
<rect x="162.20" y="163.00" width="25.30" height="1.00" fill="rgb(26,115,54)" />
<rect x="162.20" y="164.00" width="25.30" height="1.00" fill="rgb(26,116,54)" />
<rect x="162.20" y="165.00" width="25.30" height="1.00" fill="rgb(27,120,56)" />
<rect x="162.20" y="166.00" width="25.30" height="1.00" fill="rgb(27,118,56)" />
<rect x="162.20" y="167.00" width="25.30" height="1.00" fill="rgb(26,116,55)" />
<rect x="162.20" y="168.00" width="25.30" height="1.00" fill="rgb(27,119,56)" />
<rect x="162.20" y="169.00" width="25.30" height="1.00" fill="rgb(27,122,57)" />
<rect x="162.20" y="170.00" width="25.30" height="1.00" fill="rgb(28,124,58)" />
<rect x="162.20" y="171.00" width="25.30" height="1.00" fill="rgb(33,144,68)" />
<rect x="162.20" y="172.00" width="25.30" height="1.00" fill="rgb(31,139,65)" />
<rect x="162.20" y="173.00" width="25.30" height="1.00" fill="rgb(31,137,64)" />
<rect x="162.20" y="174.00" width="25.30" height="1.00" fill="rgb(31,138,65)" />
<rect x="162.20" y="175.00" width="25.30" height="1.00" fill="rgb(32,141,66)" />
<rect x="162.20" y="176.00" width="25.30" height="1.00" fill="rgb(33,146,69)" />
<rect x="162.20" y="177.00" width="25.30" height="1.00" fill="rgb(34,149,70)" />
<rect x="162.20" y="178.00" width="25.30" height="1.00" fill="rgb(33,147,69)" />
<rect x="162.20" y="179.00" width="25.30" height="1.00" fill="rgb(32,142,67)" />
<rect x="162.20" y="180.00" width="25.30" height="1.00" fill="rgb(32,141,66)" />
<rect x="162.20" y="181.00" width="25.30" height="1.00" fill="rgb(32,141,66)" />
<rect x="162.20" y="182.00" width="25.30" height="1.00" fill="rgb(32,140,66)" />
<rect x="162.20" y="183.00" width="25.30" height="1.00" fill="rgb(31,137,64)" />
<rect x="162.20" y="184.00" width="25.30" height="1.00" fill="rgb(30,134,63)" />
<rect x="162.20" y="185.00" width="25.30" height="1.00" fill="rgb(31,138,65)" />
<rect x="162.20" y="186.00" width="25.30" height="1.00" fill="rgb(32,142,67)" />
<rect x="162.20" y="187.00" width="25.30" height="1.00" fill="rgb(31,136,64)" />
<rect x="162.20" y="188.00" width="25.30" height="1.00" fill="rgb(30,133,62)" />
<rect x="162.20" y="189.00" width="25.30" height="1.00" fill="rgb(31,139,65)" />
<rect x="162.20" y="190.00" width="25.30" height="1.00" fill="rgb(33,147,69)" />
<rect x="162.20" y="191.00" width="25.30" height="1.00" fill="rgb(33,146,69)" />
<rect x="162.20" y="192.00" width="25.30" height="1.00" fill="rgb(163,27,32)" />
<rect x="162.20" y="193.00" width="25.30" height="1.00" fill="rgb(160,26,31)" />
<rect x="162.20" y="194.00" width="25.30" height="1.00" fill="rgb(160,26,31)" />
<rect x="162.20" y="195.00" width="25.30" height="1.00" fill="rgb(159,26,31)" />
<rect x="162.20" y="196.00" width="25.30" height="1.00" fill="rgb(160,26,31)" />
<rect x="162.20" y="197.00" width="25.30" height="1.00" fill="rgb(159,26,31)" />
<rect x="162.20" y="198.00" width="25.30" height="1.00" fill="rgb(155,25,30)" />
<rect x="162.20" y="199.00" width="25.30" height="1.00" fill="rgb(157,26,30)" />
<rect x="162.20" y="200.00" width="25.30" height="1.00" fill="rgb(159,26,31)" />
<rect x="162.20" y="201.00" width="25.30" height="1.00" fill="rgb(157,26,30)" />
<rect x="162.20" y="202.00" width="25.30" height="1.00" fill="rgb(158,26,31)" />
<rect x="162.20" y="203.00" width="25.30" height="1.00" fill="rgb(167,27,32)" />
<rect x="162.20" y="204.00" width="25.30" height="1.00" fill="rgb(171,28,33)" />
<rect x="162.20" y="205.00" width="25.30" height="1.00" fill="rgb(164,27,32)" />
<rect x="162.20" y="206.00" width="25.30" height="1.00" fill="rgb(161,26,31)" />
<rect x="162.20" y="207.00" width="25.30" height="1.00" fill="rgb(163,27,32)" />
<rect x="162.20" y="208.00" width="25.30" height="1.00" fill="rgb(161,26,31)" />
<rect x="162.20" y="209.00" width="25.30" height="1.00" fill="rgb(162,26,31)" />
<rect x="162.20" y="210.00" width="25.30" height="1.00" fill="rgb(164,27,32)" />
<rect x="162.20" y="211.00" width="25.30" height="1.00" fill="rgb(160,26,31)" />
<rect x="162.20" y="212.00" width="25.30" height="1.00" fill="rgb(157,26,30)" />
<rect x="162.20" y="213.00" width="25.30" height="1.00" fill="rgb(157,26,30)" />
<rect x="162.20" y="214.00" width="25.30" height="1.00" fill="rgb(158,26,31)" />
<rect x="162.20" y="215.00" width="25.30" height="1.00" fill="rgb(161,26,31)" />
<rect x="162.20" y="216.00" width="25.30" height="1.00" fill="rgb(167,27,32)" />
<rect x="162.20" y="217.00" width="25.30" height="1.00" fill="rgb(170,28,33)" />
<rect x="162.20" y="218.00" width="25.30" height="1.00" fill="rgb(168,27,33)" />
<rect x="162.20" y="219.00" width="25.30" height="1.00" fill="rgb(162,26,31)" />
<rect x="162.20" y="220.00" width="25.30" height="1.00" fill="rgb(158,26,31)" />
<rect x="162.20" y="221.00" width="25.30" height="1.00" fill="rgb(158,26,31)" />
<rect x="162.20" y="222.00" width="25.30" height="1.00" fill="rgb(159,26,31)" />
<rect x="162.20" y="223.00" width="25.30" height="1.00" fill="rgb(162,26,31)" />
<rect x="162.20" y="224.00" width="25.30" height="1.00" fill="rgb(166,27,32)" />
<rect x="162.20" y="225.00" width="25.30" height="1.00" fill="rgb(165,27,32)" />
<rect x="162.20" y="226.00" width="25.30" height="1.00" fill="rgb(161,26,31)" />
<rect x="162.20" y="227.00" width="25.30" height="1.00" fill="rgb(159,26,31)" />
<rect x="162.20" y="228.00" width="25.30" height="1.00" fill="rgb(161,26,31)" />
<rect x="162.20" y="229.00" width="25.30" height="1.00" fill="rgb(161,26,31)" />
<rect x="162.20" y="230.00" width="25.30" height="1.00" fill="rgb(158,26,31)" />
<rect x="162.20" y="231.00" width="25.30" height="1.00" fill="rgb(161,26,31)" />
<rect x="162.20" y="232.00" width="25.30" height="1.00" fill="rgb(162,26,31)" />
<rect x="162.20" y="233.00" width="25.30" height="1.00" fill="rgb(157,26,30)" />
<rect x="162.20" y="234.00" width="25.30" height="1.00" fill="rgb(156,25,30)" />
<rect x="162.20" y="235.00" width="25.30" height="1.00" fill="rgb(160,26,31)" />
<rect x="162.20" y="236.00" width="25.30" height="1.00" fill="rgb(167,27,32)" />
<rect x="162.20" y="237.00" width="25.30" height="0.30" fill="rgb(168,27,33)" />
<rect x="187.10" y="143.20" width="25.10" height="0.80" fill="rgb(32,142,67)" />
<rect x="187.10" y="144.00" width="25.10" height="1.00" fill="rgb(32,140,66)" />
<rect x="187.10" y="145.00" width="25.10" height="1.00" fill="rgb(31,137,64)" />
<rect x="187.10" y="146.00" width="25.10" height="1.00" fill="rgb(32,141,66)" />
<rect x="187.10" y="147.00" width="25.10" height="1.00" fill="rgb(32,141,66)" />
<rect x="187.10" y="148.00" width="25.10" height="1.00" fill="rgb(30,135,63)" />
<rect x="187.10" y="149.00" width="25.10" height="1.00" fill="rgb(31,135,63)" />
<rect x="187.10" y="150.00" width="25.10" height="1.00" fill="rgb(31,137,64)" />
<rect x="187.10" y="151.00" width="25.10" height="1.00" fill="rgb(31,138,65)" />
<rect x="187.10" y="152.00" width="25.10" height="1.00" fill="rgb(31,138,65)" />
<rect x="187.10" y="153.00" width="25.10" height="1.00" fill="rgb(31,136,64)" />
<rect x="187.10" y="154.00" width="25.10" height="1.00" fill="rgb(31,137,64)" />
<rect x="187.10" y="155.00" width="25.10" height="1.00" fill="rgb(32,141,66)" />
<rect x="187.10" y="156.00" width="25.10" height="1.00" fill="rgb(32,142,67)" />
<rect x="187.10" y="157.00" width="25.10" height="1.00" fill="rgb(32,140,66)" />
<rect x="187.10" y="158.00" width="25.10" height="1.00" fill="rgb(40,162,72)" />
<rect x="187.10" y="159.00" width="25.10" height="1.00" fill="rgb(39,160,71)" />
<rect x="187.10" y="160.00" width="25.10" height="1.00" fill="rgb(38,157,70)" />
<rect x="187.10" y="161.00" width="25.10" height="1.00" fill="rgb(39,161,71)" />
<rect x="187.10" y="162.00" width="25.10" height="1.00" fill="rgb(39,160,71)" />
<rect x="187.10" y="163.00" width="25.10" height="1.00" fill="rgb(38,156,69)" />
<rect x="187.10" y="164.00" width="25.10" height="1.00" fill="rgb(38,154,68)" />
<rect x="187.10" y="165.00" width="25.10" height="1.00" fill="rgb(37,150,67)" />
<rect x="187.10" y="166.00" width="25.10" height="1.00" fill="rgb(37,150,66)" />
<rect x="187.10" y="167.00" width="25.10" height="1.00" fill="rgb(38,155,69)" />
<rect x="187.10" y="168.00" width="25.10" height="1.00" fill="rgb(39,159,71)" />
<rect x="187.10" y="169.00" width="25.10" height="1.00" fill="rgb(39,161,71)" />
<rect x="187.10" y="170.00" width="25.10" height="1.00" fill="rgb(38,157,70)" />
<rect x="187.10" y="171.00" width="25.10" height="1.00" fill="rgb(38,153,68)" />
<rect x="187.10" y="172.00" width="25.10" height="1.00" fill="rgb(28,123,58)" />
<rect x="187.10" y="173.00" width="25.10" height="1.00" fill="rgb(29,129,61)" />
<rect x="187.10" y="174.00" width="25.10" height="1.00" fill="rgb(29,127,60)" />
<rect x="187.10" y="175.00" width="25.10" height="1.00" fill="rgb(28,122,57)" />
<rect x="187.10" y="176.00" width="25.10" height="1.00" fill="rgb(27,120,56)" />
<rect x="187.10" y="177.00" width="25.10" height="1.00" fill="rgb(27,121,57)" />
<rect x="187.10" y="178.00" width="25.10" height="1.00" fill="rgb(28,124,58)" />
<rect x="187.10" y="179.00" width="25.10" height="1.00" fill="rgb(29,128,60)" />
<rect x="187.10" y="180.00" width="25.10" height="1.00" fill="rgb(30,131,61)" />
<rect x="187.10" y="181.00" width="25.10" height="1.00" fill="rgb(30,131,61)" />
<rect x="187.10" y="182.00" width="25.10" height="1.00" fill="rgb(29,127,60)" />
<rect x="187.10" y="183.00" width="25.10" height="1.00" fill="rgb(28,123,58)" />
<rect x="187.10" y="184.00" width="25.10" height="1.00" fill="rgb(27,119,56)" />
<rect x="187.10" y="185.00" width="25.10" height="1.00" fill="rgb(26,116,55)" />
<rect x="187.10" y="186.00" width="25.10" height="1.00" fill="rgb(27,120,56)" />
<rect x="187.10" y="187.00" width="25.10" height="1.00" fill="rgb(28,125,59)" />
<rect x="187.10" y="188.00" width="25.10" height="1.00" fill="rgb(28,126,59)" />
<rect x="187.10" y="189.00" width="25.10" height="1.00" fill="rgb(28,124,58)" />
<rect x="187.10" y="190.00" width="25.10" height="1.00" fill="rgb(28,123,58)" />
<rect x="187.10" y="191.00" width="25.10" height="1.00" fill="rgb(29,127,59)" />
<rect x="187.10" y="192.00" width="25.10" height="1.00" fill="rgb(165,27,32)" />
<rect x="187.10" y="193.00" width="25.10" height="1.00" fill="rgb(164,27,32)" />
<rect x="187.10" y="194.00" width="25.10" height="1.00" fill="rgb(160,26,31)" />
<rect x="187.10" y="195.00" width="25.10" height="1.00" fill="rgb(154,25,30)" />
<rect x="187.10" y="196.00" width="25.10" height="1.00" fill="rgb(155,25,30)" />
<rect x="187.10" y="197.00" width="25.10" height="1.00" fill="rgb(162,26,31)" />
<rect x="187.10" y="198.00" width="25.10" height="1.00" fill="rgb(167,27,32)" />
<rect x="187.10" y="199.00" width="25.10" height="1.00" fill="rgb(164,27,32)" />
<rect x="187.10" y="200.00" width="25.10" height="1.00" fill="rgb(162,26,31)" />
<rect x="187.10" y="201.00" width="25.10" height="1.00" fill="rgb(163,27,32)" />
<rect x="187.10" y="202.00" width="25.10" height="1.00" fill="rgb(163,27,32)" />
<rect x="187.10" y="203.00" width="25.10" height="1.00" fill="rgb(164,27,32)" />
<rect x="187.10" y="204.00" width="25.10" height="1.00" fill="rgb(162,26,31)" />
<rect x="187.10" y="205.00" width="25.10" height="1.00" fill="rgb(159,26,31)" />
<rect x="187.10" y="206.00" width="25.10" height="1.00" fill="rgb(161,26,31)" />
<rect x="187.10" y="207.00" width="25.10" height="1.00" fill="rgb(160,26,31)" />
<rect x="187.10" y="208.00" width="25.10" height="1.00" fill="rgb(157,26,30)" />
<rect x="187.10" y="209.00" width="25.10" height="1.00" fill="rgb(160,26,31)" />
<rect x="187.10" y="210.00" width="25.10" height="1.00" fill="rgb(161,26,31)" />
<rect x="187.10" y="211.00" width="25.10" height="1.00" fill="rgb(159,26,31)" />
<rect x="187.10" y="212.00" width="25.10" height="1.00" fill="rgb(159,26,31)" />
<rect x="187.10" y="213.00" width="25.10" height="1.00" fill="rgb(162,26,31)" />
<rect x="187.10" y="214.00" width="25.10" height="1.00" fill="rgb(165,27,32)" />
<rect x="187.10" y="215.00" width="25.10" height="1.00" fill="rgb(166,27,32)" />
<rect x="187.10" y="216.00" width="25.10" height="1.00" fill="rgb(166,27,32)" />
<rect x="187.10" y="217.00" width="25.10" height="1.00" fill="rgb(167,27,32)" />
<rect x="187.10" y="218.00" width="25.10" height="1.00" fill="rgb(167,27,32)" />
<rect x="187.10" y="219.00" width="25.10" height="1.00" fill="rgb(161,26,31)" />
<rect x="187.10" y="220.00" width="25.10" height="1.00" fill="rgb(155,25,30)" />
<rect x="187.10" y="221.00" width="25.10" height="1.00" fill="rgb(157,26,30)" />
<rect x="187.10" y="222.00" width="25.10" height="1.00" fill="rgb(162,26,31)" />
<rect x="187.10" y="223.00" width="25.10" height="1.00" fill="rgb(164,27,32)" />
<rect x="187.10" y="224.00" width="25.10" height="1.00" fill="rgb(166,27,32)" />
<rect x="187.10" y="225.00" width="25.10" height="1.00" fill="rgb(163,27,32)" />
<rect x="187.10" y="226.00" width="25.10" height="1.00" fill="rgb(161,26,31)" />
<rect x="187.10" y="227.00" width="25.10" height="1.00" fill="rgb(168,27,32)" />
<rect x="187.10" y="228.00" width="25.10" height="1.00" fill="rgb(171,28,33)" />
<rect x="187.10" y="229.00" width="25.10" height="1.00" fill="rgb(164,27,32)" />
<rect x="187.10" y="230.00" width="25.10" height="1.00" fill="rgb(157,26,30)" />
<rect x="187.10" y="231.00" width="25.10" height="1.00" fill="rgb(159,26,31)" />
<rect x="187.10" y="232.00" width="25.10" height="1.00" fill="rgb(163,27,32)" />
<rect x="187.10" y="233.00" width="25.10" height="1.00" fill="rgb(161,26,31)" />
<rect x="187.10" y="234.00" width="25.10" height="1.00" fill="rgb(161,26,31)" />
<rect x="187.10" y="235.00" width="25.10" height="1.00" fill="rgb(164,27,32)" />
<rect x="187.10" y="236.00" width="25.10" height="1.00" fill="rgb(164,27,32)" />
<rect x="187.10" y="237.00" width="25.10" height="0.30" fill="rgb(162,26,31)" />
</g>
<rect x="42.00" y="144.00" width="18.80" height="13.30" fill="#ec2424" />
<rect x="48.00" y="157.30" width="12.80" height="12.70" fill="#d8dc64" />
<rect x="36.00" y="170.00" width="24.80" height="21.50" fill="#68c064" />
<rect x="44.80" y="191.50" width="16.00" height="18.90" fill="#3a9cdc" />
<rect x="50.70" y="210.40" width="10.10" height="27.20" fill="#7a4ea8" />
<rect x="60.80" y="143.20" width="2.10" height="94.40" fill="#fafafa" />
<line x1="33.90" y1="152.00" x2="33.90" y2="227.20" stroke="#a0a0a0" stroke-width="0.7" />
<line x1="33.90" y1="152.00" x2="42.00" y2="152.00" stroke="#a0a0a0" stroke-width="0.7" />
<line x1="33.90" y1="165.30" x2="48.00" y2="165.30" stroke="#a0a0a0" stroke-width="0.7" />
<line x1="33.90" y1="184.80" x2="36.00" y2="184.80" stroke="#a0a0a0" stroke-width="0.7" />
<line x1="33.90" y1="205.30" x2="44.80" y2="205.30" stroke="#a0a0a0" stroke-width="0.7" />
<line x1="33.90" y1="227.20" x2="50.70" y2="227.20" stroke="#a0a0a0" stroke-width="0.7" />
<path d="M63.3,239 V244.5 H135 V239" fill="none" stroke="#444" stroke-width="0.85"/>
<line x1="99.15" y1="244.50" x2="99.15" y2="248.00" stroke="#333" stroke-width="0.9" />
<path d="M138.5,239 V244.5 H211.5 V239" fill="none" stroke="#444" stroke-width="0.85"/>
<line x1="175.00" y1="244.50" x2="175.00" y2="248.00" stroke="#333" stroke-width="0.9" />
<text x="95.80" y="256.90" font-size="6.2" text-anchor="middle" font-weight="normal" fill="#222" >Control conditioned medium</text>
<text x="96.20" y="265.20" font-size="6.2" text-anchor="middle" font-weight="normal" fill="#222" >treated OVCA433 cells</text>
<text x="179.00" y="256.90" font-size="6.0" text-anchor="middle" font-weight="normal" fill="#222" >VCAN-conditioned medium</text>
<text x="179.00" y="265.20" font-size="6.2" text-anchor="middle" font-weight="normal" fill="#222" >treated OVCA433 cells</text>
<text transform="translate(266.60,132.10) scale(0.96,1)" font-size="12.6" font-weight="bold" fill="#000">D</text>
<text transform="translate(272.00,160.10) scale(0.94,1)" font-size="6.85" text-anchor="start" fill="#111" >Probe Set ID</text>
<text transform="translate(362.50,160.10) scale(0.94,1)" font-size="6.85" text-anchor="middle" fill="#111" >Gene</text>
<text transform="translate(425.00,160.10) scale(0.94,1)" font-size="6.85" text-anchor="middle" fill="#111" >Average fold change</text>
<text transform="translate(482.50,160.10) scale(0.94,1)" font-size="6.85" text-anchor="middle" fill="#111" font-style="italic">P</text>
<text transform="translate(272.00,168.92) scale(0.94,1)" font-size="6.85" text-anchor="start" fill="#111" >203936_s_at</text>
<text transform="translate(362.50,168.92) scale(0.94,1)" font-size="6.85" text-anchor="middle" fill="#111" >MMP9</text>
<text transform="translate(425.00,168.92) scale(0.94,1)" font-size="6.85" text-anchor="middle" fill="#111" >7.18</text>
<text transform="translate(490.60,168.92) scale(0.94,1)" font-size="6.85" text-anchor="middle" fill="#111" >1.10E-05</text>
<text transform="translate(272.00,177.74) scale(0.94,1)" font-size="6.85" text-anchor="start" fill="#111" >209709_s_at</text>
<text transform="translate(362.50,177.74) scale(0.94,1)" font-size="6.85" text-anchor="middle" fill="#111" >HMMR</text>
<text transform="translate(425.00,177.74) scale(0.94,1)" font-size="6.85" text-anchor="middle" fill="#111" >2.74</text>
<text transform="translate(490.60,177.74) scale(0.94,1)" font-size="6.85" text-anchor="middle" fill="#111" >4.02E-05</text>
<text transform="translate(272.00,186.56) scale(0.94,1)" font-size="6.85" text-anchor="start" fill="#111" >212063_at</text>
<text transform="translate(362.50,186.56) scale(0.94,1)" font-size="6.85" text-anchor="middle" fill="#111" >CD44</text>
<text transform="translate(425.00,186.56) scale(0.94,1)" font-size="6.85" text-anchor="middle" fill="#111" >2.45</text>
<text transform="translate(490.60,186.56) scale(0.94,1)" font-size="6.85" text-anchor="middle" fill="#111" >1.11E-05</text>
<text transform="translate(272.00,195.38) scale(0.94,1)" font-size="6.85" text-anchor="start" fill="#111" >222162_s_at</text>
<text transform="translate(362.50,195.38) scale(0.94,1)" font-size="6.85" text-anchor="middle" fill="#111" >ADAMTS1</text>
<text transform="translate(425.00,195.38) scale(0.94,1)" font-size="6.85" text-anchor="middle" fill="#111" >2.04</text>
<text transform="translate(490.60,195.38) scale(0.94,1)" font-size="6.85" text-anchor="middle" fill="#111" >6.45E-05</text>
<text transform="translate(272.00,204.20) scale(0.94,1)" font-size="6.85" text-anchor="start" fill="#111" >201150_s_at</text>
<text transform="translate(362.50,204.20) scale(0.94,1)" font-size="6.85" text-anchor="middle" fill="#111" >TIMP3</text>
<text transform="translate(425.00,204.20) scale(0.94,1)" font-size="6.85" text-anchor="middle" fill="#111" >-4.44</text>
<text transform="translate(490.60,204.20) scale(0.94,1)" font-size="6.85" text-anchor="middle" fill="#111" >3.88E-05</text>
<text transform="translate(15.00,282.80) scale(0.96,1)" font-size="12.6" font-weight="bold" fill="#000">E</text>
<defs><marker id="ah" viewBox="0 0 6 6" refX="5.5" refY="3" markerWidth="3.6" markerHeight="3.6" orient="auto"><path d="M0,0 L6,3 L0,6 z" fill="#5a5a5a"/></marker></defs>
<defs><marker id="ah2" viewBox="0 0 6 6" refX="0.5" refY="3" markerWidth="3.6" markerHeight="3.6" orient="auto"><path d="M6,0 L0,3 L6,6 z" fill="#5a5a5a"/></marker></defs>
<line x1="72.6" y1="320" x2="69.3" y2="297.5" stroke="#6a6a6a" stroke-width="0.95" marker-end="url(#ah)"/>
<line x1="77.5" y1="321" x2="100.6" y2="302.3" stroke="#6a6a6a" stroke-width="0.95" marker-end="url(#ah)"/>
<line x1="66.5" y1="324.6" x2="44.5" y2="325.3" stroke="#6a6a6a" stroke-width="0.95" marker-end="url(#ah)"/>
<line x1="78" y1="325.8" x2="100.3" y2="330.3" stroke="#6a6a6a" stroke-width="0.95" marker-end="url(#ah)"/>
<line x1="137" y1="322" x2="112" y2="301.5" stroke="#6a6a6a" stroke-width="0.95" marker-end="url(#ah)"/>
<line x1="131" y1="326.8" x2="111.8" y2="330.4" stroke="#6a6a6a" stroke-width="0.95" marker-end="url(#ah)"/>
<line x1="144.3" y1="296.5" x2="140.8" y2="321" stroke="#6a6a6a" stroke-width="0.95" marker-end="url(#ah)" marker-start="url(#ah2)"/>
<line x1="172.5" y1="317.5" x2="147" y2="324.8" stroke="#6a6a6a" stroke-width="0.95" marker-end="url(#ah)"/>
<line x1="144.5" y1="330" x2="170.5" y2="350.8" stroke="#6a6a6a" stroke-width="0.95" marker-end="url(#ah)"/>
<line x1="204.5" y1="344.8" x2="182.5" y2="321.5" stroke="#6a6a6a" stroke-width="0.95" marker-end="url(#ah)"/>
<line x1="139.6" y1="331" x2="137.6" y2="363.2" stroke="#6a6a6a" stroke-width="0.95" marker-end="url(#ah)"/>
<line x1="131.5" y1="364.8" x2="110.8" y2="337" stroke="#6a6a6a" stroke-width="0.95" marker-end="url(#ah)"/>
<line x1="66.3" y1="355.3" x2="72.3" y2="329" stroke="#6a6a6a" stroke-width="0.95"/>
<line x1="60.8" y1="362.6" x2="36.5" y2="374" stroke="#6a6a6a" stroke-width="0.95"/>
<line x1="70.5" y1="361.2" x2="93.5" y2="364.3" stroke="#6a6a6a" stroke-width="0.95"/>
<line x1="104" y1="365.6" x2="126.5" y2="368.6" stroke="#6a6a6a" stroke-width="0.95" marker-end="url(#ah)"/>
<line x1="68.5" y1="365" x2="87.4" y2="395.6" stroke="#6a6a6a" stroke-width="0.95"/>
<line x1="129" y1="373.5" x2="96.3" y2="395.8" stroke="#6a6a6a" stroke-width="0.95" marker-end="url(#ah)"/>
<line x1="135.2" y1="374.2" x2="126.6" y2="401.6" stroke="#6a6a6a" stroke-width="0.95" marker-end="url(#ah)"/>
<line x1="95" y1="400" x2="118.6" y2="405.6" stroke="#6a6a6a" stroke-width="0.95" marker-end="url(#ah)"/>
<line x1="88.3" y1="403.8" x2="73.3" y2="427.8" stroke="#6a6a6a" stroke-width="0.95"/>
<line x1="126.6" y1="411.6" x2="142.4" y2="436.6" stroke="#6a6a6a" stroke-width="0.95"/>
<line x1="149.2" y1="375.6" x2="170.4" y2="387.6" stroke="#666" stroke-width="0.75"/>
<line x1="147.5" y1="378.3" x2="150.9" y2="372.9" stroke="#666" stroke-width="0.9"/>
<path d="M64.2,285.6 L67.0,285.6 L68.8,289.0 L70.6,285.6 L73.39999999999999,285.6 L68.8,294.2 z" fill="#eeb8c0" stroke="#e8a8b2" stroke-width="0.5"/>
<text x="68.80" y="291.70" font-size="4.8" text-anchor="middle" font-weight="normal" fill="#222" >CXCL2</text>
<path d="M101.7,292.5 L104.5,292.5 L106.3,295.9 L108.1,292.5 L110.89999999999999,292.5 L106.3,301.09999999999997 z" fill="#eeb8c0" stroke="#e8a8b2" stroke-width="0.5"/>
<text x="105.90" y="298.70" font-size="4.8" text-anchor="middle" font-weight="normal" fill="#222" >CXCL3</text>
<path d="M33.6,321.0 L36.400000000000006,321.0 L38.2,324.4 L40.0,321.0 L42.800000000000004,321.0 L38.2,329.59999999999997 z" fill="#eeb8c0" stroke="#e8a8b2" stroke-width="0.5"/>
<text x="37.60" y="327.30" font-size="4.8" text-anchor="middle" font-weight="normal" fill="#222" >CXCL</text>
<path d="M101.2,326.6 L104.0,326.6 L105.8,330.0 L107.6,326.6 L110.39999999999999,326.6 L105.8,335.2 z" fill="#eeb8c0" stroke="#e8a8b2" stroke-width="0.5"/>
<text x="105.80" y="332.60" font-size="4.8" text-anchor="middle" font-weight="normal" fill="#222" >IL8</text>
<circle cx="72.9" cy="324.4" r="4.4" fill="#e4a0a2" stroke="#f0c8c8" stroke-width="0.6"/>
<text x="73.00" y="326.30" font-size="4.8" text-anchor="middle" font-weight="normal" fill="#222" >CHEMOKINE</text>
<circle cx="144.5" cy="291" r="4.3" fill="#fff" stroke="#aaa" stroke-width="0.6"/>
<text x="144.50" y="292.70" font-size="4.8" text-anchor="middle" font-weight="normal" fill="#222" >IKK (complex)</text>
<circle cx="140" cy="326" r="4.3" fill="#fff" stroke="#aaa" stroke-width="0.6"/>
<text x="139.60" y="327.70" font-size="4.8" text-anchor="middle" font-weight="normal" fill="#222" >NFkB (complex)</text>
<circle cx="178" cy="316" r="4.3" fill="#fff" stroke="#aaa" stroke-width="0.6"/>
<text x="177.80" y="317.70" font-size="4.8" text-anchor="middle" font-weight="normal" fill="#222" >IFN Beta</text>
<circle cx="176" cy="354.5" r="4.3" fill="#fff" stroke="#aaa" stroke-width="0.6"/>
<text x="176.50" y="356.20" font-size="4.8" text-anchor="middle" font-weight="normal" fill="#222" >NFkB-RelA</text>
<circle cx="209" cy="349.5" r="5.4" fill="#e48080" stroke="#f0b0b0" stroke-width="0.6"/>
<text x="209.60" y="351.30" font-size="4.8" text-anchor="middle" font-weight="normal" fill="#222" >HMGA2*</text>
<circle cx="65.3" cy="360.4" r="5" fill="#f0c0c0" stroke="#f4d4d4" stroke-width="0.6"/>
<text x="65.50" y="362.10" font-size="4.8" text-anchor="middle" font-weight="normal" fill="#222" >CD44</text>
<circle cx="31.8" cy="376.3" r="5" fill="#eab0b0" stroke="#f0c8c8" stroke-width="0.6"/>
<text x="32.00" y="378.00" font-size="4.8" text-anchor="middle" font-weight="normal" fill="#222" >HMMR*</text>
<circle cx="98.7" cy="365.1" r="5.1" fill="#c42424" stroke="#d86060" stroke-width="0.6"/>
<text x="98.70" y="366.80" font-size="4.2" text-anchor="middle" font-weight="normal" fill="#6a1010" >Vcan</text>
<path d="M126.8,369.2 C130.5,364.4 139.5,363.9 144.8,364.8 C148.6,365.5 148.4,368.6 146.2,368.9 C145.2,369.1 145.2,369.7 146.2,369.9 C148.4,370.4 148.6,373.2 144.8,373.7 C139.5,374.6 130.5,374.1 126.8,369.2 z" fill="#c41c1c" stroke="#e88080" stroke-width="0.5"/>
<ellipse cx="139.2" cy="369.4" rx="6.2" ry="2.5" fill="#f4e4e8"/>
<text x="139.2" y="370.9" font-size="4.0" text-anchor="middle" fill="#2a2a3a" style="stroke:none">MMP9</text>
<circle cx="175" cy="390" r="5" fill="#7cc848" stroke="#a8dc88" stroke-width="0.6"/>
<text x="175.40" y="391.90" font-size="4.8" text-anchor="middle" font-weight="normal" fill="#222" >TIMP3</text>
<circle cx="90" cy="399" r="4.6" fill="#fff" stroke="#aaa" stroke-width="0.6"/>
<text x="90.00" y="400.70" font-size="4.8" text-anchor="middle" font-weight="normal" fill="#222" >Fibrinogen</text>
<circle cx="124" cy="407" r="4.6" fill="#fff" stroke="#aaa" stroke-width="0.6"/>
<text x="124.00" y="408.90" font-size="4.8" text-anchor="middle" font-weight="normal" fill="#222" >Fibrin</text>
<circle cx="71" cy="432" r="4.6" fill="#fff" stroke="#aaa" stroke-width="0.6"/>
<text x="71.00" y="433.70" font-size="4.8" text-anchor="middle" font-weight="normal" fill="#222" >Tlr</text>
<circle cx="144.6" cy="441" r="4.6" fill="#fff" stroke="#aaa" stroke-width="0.6"/>
<text x="144.60" y="442.90" font-size="4.8" text-anchor="middle" font-weight="normal" fill="#222" >Elastase</text>
<rect x="195.6" y="384.3" width="66.2" height="57.6" fill="#9fb3de" stroke="#6a7fb4" stroke-width="0.6" stroke-dasharray="1.2,0.8"/>
<text x="229.00" y="389.20" font-size="3.6" text-anchor="middle" font-weight="normal" fill="#e8eefc"  style="stroke:none">Legend</text>
<text x="212.20" y="397.10" font-size="3.8" text-anchor="start" font-weight="normal" fill="#2a3a70"  style="stroke:none">Complex</text>
<text x="212.20" y="405.70" font-size="3.8" text-anchor="start" font-weight="normal" fill="#2a3a70"  style="stroke:none">Cytokine/Growth Factor</text>
<text x="212.20" y="414.00" font-size="3.8" text-anchor="start" font-weight="normal" fill="#2a3a70"  style="stroke:none">Group/Complex/Other</text>
<text x="212.20" y="422.10" font-size="3.8" text-anchor="start" font-weight="normal" fill="#2a3a70"  style="stroke:none">Peptidase</text>
<text x="212.20" y="430.30" font-size="3.8" text-anchor="start" font-weight="normal" fill="#2a3a70"  style="stroke:none">Unknown</text>
<text x="212.20" y="438.60" font-size="3.8" text-anchor="start" font-weight="normal" fill="#2a3a70"  style="stroke:none">Relationship</text>
<circle cx="203.8" cy="395.8" r="2.3" fill="#fff"/>
<path d="M201.6,402.3 L203,402.3 L203.8,404.6 L204.6,402.3 L206,402.3 L203.8,407 z" fill="#fff"/>
<path d="M205.8,418.8 C202.6,418.6 201.2,420.8 202.6,422.2 C203.6,423.1 205.2,423 205.8,422.8" fill="none" stroke="#fff" stroke-width="1.1"/>
<circle cx="203.8" cy="429" r="2.3" fill="#fff"/>
<line x1="200.80" y1="437.30" x2="208.20" y2="437.30" stroke="#2a3a80" stroke-width="0.9" />
<text transform="translate(266.30,282.80) scale(0.96,1)" font-size="12.6" font-weight="bold" fill="#000">F</text>
<line x1="297.50" y1="285.10" x2="297.50" y2="364.50" stroke="#111" stroke-width="1.1" />
<line x1="295.50" y1="364.00" x2="297.50" y2="364.00" stroke="#111" stroke-width="1" />
<text x="294.20" y="366.30" font-size="6.5" text-anchor="end" font-weight="normal" fill="#222" >0</text>
<line x1="295.50" y1="344.40" x2="297.50" y2="344.40" stroke="#111" stroke-width="1" />
<text x="294.20" y="346.70" font-size="6.5" text-anchor="end" font-weight="normal" fill="#222" >2</text>
<line x1="295.50" y1="324.80" x2="297.50" y2="324.80" stroke="#111" stroke-width="1" />
<text x="294.20" y="327.10" font-size="6.5" text-anchor="end" font-weight="normal" fill="#222" >4</text>
<line x1="295.50" y1="305.20" x2="297.50" y2="305.20" stroke="#111" stroke-width="1" />
<text x="294.20" y="307.50" font-size="6.5" text-anchor="end" font-weight="normal" fill="#222" >6</text>
<line x1="295.50" y1="285.60" x2="297.50" y2="285.60" stroke="#111" stroke-width="1" />
<text x="294.20" y="287.90" font-size="6.5" text-anchor="end" font-weight="normal" fill="#222" >8</text>
<line x1="297.00" y1="364.00" x2="416.00" y2="364.00" stroke="#111" stroke-width="1.1" />
<line x1="313.70" y1="364.00" x2="313.70" y2="366.40" stroke="#111" stroke-width="1" />
<line x1="342.80" y1="364.00" x2="342.80" y2="366.40" stroke="#111" stroke-width="1" />
<line x1="371.60" y1="364.00" x2="371.60" y2="366.40" stroke="#111" stroke-width="1" />
<line x1="401.30" y1="364.00" x2="401.30" y2="366.40" stroke="#111" stroke-width="1" />
<text transform="translate(284.2,324.2) rotate(-90)" font-size="7.4" text-anchor="middle" fill="#222">Relative expression</text>
<rect x="301.00" y="354.20" width="4.60" height="9.80" fill="#555" stroke="#000" stroke-width="1"/>
<rect x="307.00" y="332.64" width="5.00" height="31.36" fill="url(#chk)" stroke="#000" stroke-width="1"/>
<line x1="309.50" y1="332.64" x2="309.50" y2="330.68" stroke="#111" stroke-width="1" />
<line x1="306.90" y1="330.68" x2="312.10" y2="330.68" stroke="#111" stroke-width="1" />
<rect x="313.30" y="324.80" width="5.30" height="39.20" fill="url(#hln)" stroke="#000" stroke-width="1"/>
<line x1="315.95" y1="324.80" x2="315.95" y2="316.96" stroke="#111" stroke-width="1" />
<line x1="313.35" y1="316.96" x2="318.55" y2="316.96" stroke="#111" stroke-width="1" />
<rect x="320.00" y="344.40" width="4.80" height="19.60" fill="url(#vln)" stroke="#000" stroke-width="1"/>
<line x1="322.40" y1="344.40" x2="322.40" y2="341.46" stroke="#111" stroke-width="1" />
<line x1="319.80" y1="341.46" x2="325.00" y2="341.46" stroke="#111" stroke-width="1" />
<rect x="330.20" y="354.20" width="4.80" height="9.80" fill="#555" stroke="#000" stroke-width="1"/>
<rect x="336.30" y="306.18" width="5.40" height="57.82" fill="url(#chk)" stroke="#000" stroke-width="1"/>
<line x1="339.00" y1="306.18" x2="339.00" y2="297.36" stroke="#111" stroke-width="1" />
<line x1="336.40" y1="297.36" x2="341.60" y2="297.36" stroke="#111" stroke-width="1" />
<rect x="342.70" y="316.47" width="5.30" height="47.53" fill="url(#hln)" stroke="#000" stroke-width="1"/>
<line x1="345.35" y1="316.47" x2="345.35" y2="305.20" stroke="#111" stroke-width="1" />
<line x1="342.75" y1="305.20" x2="347.95" y2="305.20" stroke="#111" stroke-width="1" />
<rect x="349.00" y="321.37" width="5.00" height="42.63" fill="url(#vln)" stroke="#000" stroke-width="1"/>
<line x1="351.50" y1="321.37" x2="351.50" y2="315.00" stroke="#111" stroke-width="1" />
<line x1="348.90" y1="315.00" x2="354.10" y2="315.00" stroke="#111" stroke-width="1" />
<rect x="359.20" y="354.20" width="5.20" height="9.80" fill="#555" stroke="#000" stroke-width="1"/>
<rect x="366.00" y="327.74" width="4.80" height="36.26" fill="url(#chk)" stroke="#000" stroke-width="1"/>
<line x1="368.40" y1="327.74" x2="368.40" y2="321.86" stroke="#111" stroke-width="1" />
<line x1="365.80" y1="321.86" x2="371.00" y2="321.86" stroke="#111" stroke-width="1" />
<rect x="372.30" y="330.68" width="4.70" height="33.32" fill="url(#hln)" stroke="#000" stroke-width="1"/>
<line x1="374.65" y1="330.68" x2="374.65" y2="327.74" stroke="#111" stroke-width="1" />
<line x1="372.05" y1="327.74" x2="377.25" y2="327.74" stroke="#111" stroke-width="1" />
<rect x="378.00" y="314.02" width="5.50" height="49.98" fill="url(#vln)" stroke="#000" stroke-width="1"/>
<line x1="380.75" y1="314.02" x2="380.75" y2="308.14" stroke="#111" stroke-width="1" />
<line x1="378.15" y1="308.14" x2="383.35" y2="308.14" stroke="#111" stroke-width="1" />
<rect x="389.00" y="354.20" width="4.80" height="9.80" fill="#555" stroke="#000" stroke-width="1"/>
<rect x="395.20" y="325.78" width="5.40" height="38.22" fill="url(#chk)" stroke="#000" stroke-width="1"/>
<line x1="397.90" y1="325.78" x2="397.90" y2="318.92" stroke="#111" stroke-width="1" />
<line x1="395.30" y1="318.92" x2="400.50" y2="318.92" stroke="#111" stroke-width="1" />
<rect x="402.00" y="354.20" width="4.70" height="9.80" fill="url(#hln)" stroke="#000" stroke-width="1"/>
<line x1="404.35" y1="354.20" x2="404.35" y2="352.73" stroke="#111" stroke-width="1" />
<line x1="401.75" y1="352.73" x2="406.95" y2="352.73" stroke="#111" stroke-width="1" />
<rect x="408.00" y="354.20" width="4.70" height="9.80" fill="url(#vln)" stroke="#000" stroke-width="1"/>
<line x1="410.35" y1="354.20" x2="410.35" y2="353.42" stroke="#111" stroke-width="1" />
<line x1="407.75" y1="353.42" x2="412.95" y2="353.42" stroke="#111" stroke-width="1" />
<text transform="translate(314.4,371.6) rotate(-45)" font-size="6.3" text-anchor="end" fill="#222">ALST</text>
<text transform="translate(343.5,371.6) rotate(-45)" font-size="6.3" text-anchor="end" fill="#222">OVCA429</text>
<text transform="translate(372.3,371.6) rotate(-45)" font-size="6.3" text-anchor="end" fill="#222">OVCA433</text>
<text transform="translate(402.0,371.6) rotate(-45)" font-size="6.3" text-anchor="end" fill="#222">SKOV3</text>
<rect x="422.90" y="288.00" width="10.20" height="4.60" fill="#555" stroke="#000" stroke-width="1"/>
<text x="435.20" y="292.90" font-size="6.5" text-anchor="start" font-weight="normal" fill="#222" >Baseline expression</text>
<rect x="422.90" y="297.60" width="10.20" height="4.60" fill="url(#chk)" stroke="#000" stroke-width="1"/>
<text x="435.20" y="302.50" font-size="6.5" text-anchor="start" font-weight="normal" fill="#222" >CD44</text>
<rect x="422.90" y="306.80" width="10.20" height="4.60" fill="url(#hln)" stroke="#000" stroke-width="1"/>
<text x="435.20" y="311.70" font-size="6.5" text-anchor="start" font-weight="normal" fill="#222" >HMMR</text>
<rect x="422.90" y="315.90" width="10.20" height="4.60" fill="url(#vln)" stroke="#000" stroke-width="1"/>
<text x="435.20" y="320.80" font-size="6.5" text-anchor="start" font-weight="normal" fill="#222" >MMP9</text>
<text transform="translate(14.80,467.10) scale(0.96,1)" font-size="12.6" font-weight="bold" fill="#000">G</text>
<text transform="translate(92.2,500.0) rotate(-45)" font-size="6.3" text-anchor="end" fill="#222">ALST</text>
<text transform="translate(108.8,511.6) rotate(-45)" font-size="6.3" text-anchor="start" fill="#222">ALST treated with versican</text>
<filter id="bn" x="0" y="0" width="1" height="1"><feTurbulence type="fractalNoise" baseFrequency="0.9" numOctaves="2" seed="4"/><feColorMatrix type="matrix" values="0 0 0 0 0  0 0 0 0 0  0 0 0 0 0  0 0 0 0.35 0"/><feComposite in2="SourceGraphic" operator="in"/></filter>
<filter id="bl1"><feGaussianBlur stdDeviation="0.9"/></filter>
<filter id="bl2"><feGaussianBlur stdDeviation="0.6"/></filter>
<rect x="69.90" y="513.40" width="51.70" height="20.50" fill="#c6c6c6" />
<rect x="69.90" y="513.40" width="51.70" height="20.50" fill="#000" filter="url(#bn)" opacity="0.5"/>
<rect x="69.90" y="535.40" width="51.70" height="18.30" fill="#dadada" />
<rect x="69.90" y="535.40" width="51.70" height="18.30" fill="#000" filter="url(#bn)" opacity="0.5"/>
<rect x="69.90" y="556.00" width="51.70" height="17.50" fill="#cbcbcb" />
<rect x="69.90" y="556.00" width="51.70" height="17.50" fill="#000" filter="url(#bn)" opacity="0.5"/>
<rect x="69.90" y="575.80" width="51.70" height="18.20" fill="#d2d2d2" />
<rect x="69.90" y="575.80" width="51.70" height="18.20" fill="#000" filter="url(#bn)" opacity="0.5"/>
<g filter="url(#bl1)">
<rect x="96" y="535.4" width="1.6" height="18.3" fill="#eaeaea"/>
<rect x="95.6" y="575.8" width="1.8" height="18.2" fill="#e4e4e4"/>
<rect x="72" y="521.6" width="23" height="4.2" rx="2" fill="#747474"/>
<rect x="98" y="521.3" width="22" height="5.4" rx="2" fill="#535353"/>
<circle cx="99.5" cy="523.5" r="1.6" fill="#222"/>
<circle cx="118.5" cy="523.5" r="1.4" fill="#333"/>
<circle cx="119" cy="530.5" r="0.8" fill="#444"/>
<rect x="72" y="542" width="23" height="4" rx="2" fill="#b0b0b0"/>
<rect x="98" y="542" width="22" height="4" rx="2" fill="#a4a4a4"/>
<rect x="73" y="561.5" width="20" height="4" rx="2" fill="#b8b8b8"/>
<rect x="98" y="560.8" width="22" height="6" rx="3" fill="#3a3a3a"/>
</g>
<g filter="url(#bl2)">
<rect x="70.8" y="580.8" width="23.4" height="6.6" rx="3" fill="#0c0c0c"/>
<rect x="97.4" y="581.8" width="23.6" height="5.2" rx="2.6" fill="#141414"/>
</g>
<text x="66.60" y="526.80" font-size="7.6" text-anchor="end" font-weight="normal" fill="#111" >CD44</text>
<text x="66.60" y="546.80" font-size="7.6" text-anchor="end" font-weight="normal" fill="#111" >HMMR</text>
<text x="66.60" y="566.80" font-size="7.6" text-anchor="end" font-weight="normal" fill="#111" >MMP9</text>
<text x="66.60" y="587.80" font-size="7.6" text-anchor="end" font-weight="normal" fill="#111" >GAPDH</text>
<text transform="translate(176.00,466.80) scale(0.96,1)" font-size="12.6" font-weight="bold" fill="#000">H</text>
<text x="250.00" y="463.80" font-size="7.4" text-anchor="middle" font-weight="normal" fill="#111" >CD44</text>
<text x="349.50" y="463.80" font-size="7.4" text-anchor="middle" font-weight="normal" fill="#111" >HMMR</text>
<text x="447.00" y="463.80" font-size="7.4" text-anchor="middle" font-weight="normal" fill="#111" >MMP9</text>
<text transform="translate(189.2,500.9) rotate(-90)" font-size="7.2" text-anchor="middle" fill="#222">High VCAN</text>
<text transform="translate(197.1,500.9) rotate(-90)" font-size="7.2" text-anchor="middle" fill="#222">expressor</text>
<text transform="translate(189.2,570.2) rotate(-90)" font-size="7.2" text-anchor="middle" fill="#222">Low VCAN</text>
<text transform="translate(197.1,570.2) rotate(-90)" font-size="7.2" text-anchor="middle" fill="#222">expressor</text>
<text x="494.50" y="610.20" font-size="5.4" text-anchor="end" font-weight="normal" fill="#222" >Bar = 50 μmol/L</text>
<defs>
<clipPath id="tc0"><rect x="202.0" y="466.3" width="95.5" height="67.5"/></clipPath>
<clipPath id="tc1"><rect x="301.3" y="466.3" width="95.0" height="67.5"/></clipPath>
<clipPath id="tc2"><rect x="399.5" y="466.3" width="95.0" height="67.5"/></clipPath>
<clipPath id="tc3"><rect x="202.0" y="536.5" width="95.5" height="67.8"/></clipPath>
<clipPath id="tc4"><rect x="301.3" y="536.5" width="95.0" height="67.8"/></clipPath>
<clipPath id="tc5"><rect x="399.5" y="536.5" width="95.0" height="67.8"/></clipPath>
<filter id="tl0" x="0" y="0" width="1" height="1" color-interpolation-filters="sRGB"><feTurbulence type="turbulence" baseFrequency="0.07 0.1" numOctaves="2" seed="11"/><feColorMatrix type="matrix" values="0 0 0 0 1  0 0 0 0 1  0 0 0 0 1  -6 0 0 0 1.0"/><feComposite in2="SourceGraphic" operator="in"/></filter>
<filter id="tv0" x="0" y="0" width="1" height="1" color-interpolation-filters="sRGB"><feTurbulence type="turbulence" baseFrequency="0.08 0.12" numOctaves="2" seed="51"/><feColorMatrix type="matrix" values="0 0 0 0 0.35  0 0 0 0 0.32  0 0 0 0 0.55  -7 0 0 0 1.0"/><feComposite in2="SourceGraphic" operator="in"/></filter>
<filter id="td0" x="0" y="0" width="1" height="1" color-interpolation-filters="sRGB"><feTurbulence type="fractalNoise" baseFrequency="0.22" numOctaves="2" seed="31"/><feColorMatrix type="matrix" values="0 0 0 0 0.42  0 0 0 0 0.38  0 0 0 0 0.6  0 2.4 0 0 -1.3"/><feComposite in2="SourceGraphic" operator="in"/></filter>
<filter id="tl1" x="0" y="0" width="1" height="1" color-interpolation-filters="sRGB"><feTurbulence type="turbulence" baseFrequency="0.07 0.1" numOctaves="2" seed="12"/><feColorMatrix type="matrix" values="0 0 0 0 1  0 0 0 0 1  0 0 0 0 1  -6 0 0 0 1.0"/><feComposite in2="SourceGraphic" operator="in"/></filter>
<filter id="tv1" x="0" y="0" width="1" height="1" color-interpolation-filters="sRGB"><feTurbulence type="turbulence" baseFrequency="0.08 0.12" numOctaves="2" seed="52"/><feColorMatrix type="matrix" values="0 0 0 0 0.35  0 0 0 0 0.32  0 0 0 0 0.55  -7 0 0 0 1.0"/><feComposite in2="SourceGraphic" operator="in"/></filter>
<filter id="td1" x="0" y="0" width="1" height="1" color-interpolation-filters="sRGB"><feTurbulence type="fractalNoise" baseFrequency="0.22" numOctaves="2" seed="32"/><feColorMatrix type="matrix" values="0 0 0 0 0.42  0 0 0 0 0.38  0 0 0 0 0.6  0 2.4 0 0 -1.3"/><feComposite in2="SourceGraphic" operator="in"/></filter>
<filter id="tl2" x="0" y="0" width="1" height="1" color-interpolation-filters="sRGB"><feTurbulence type="turbulence" baseFrequency="0.07 0.1" numOctaves="2" seed="13"/><feColorMatrix type="matrix" values="0 0 0 0 1  0 0 0 0 1  0 0 0 0 1  -6 0 0 0 1.0"/><feComposite in2="SourceGraphic" operator="in"/></filter>
<filter id="tv2" x="0" y="0" width="1" height="1" color-interpolation-filters="sRGB"><feTurbulence type="turbulence" baseFrequency="0.08 0.12" numOctaves="2" seed="53"/><feColorMatrix type="matrix" values="0 0 0 0 0.35  0 0 0 0 0.32  0 0 0 0 0.55  -7 0 0 0 1.0"/><feComposite in2="SourceGraphic" operator="in"/></filter>
<filter id="td2" x="0" y="0" width="1" height="1" color-interpolation-filters="sRGB"><feTurbulence type="fractalNoise" baseFrequency="0.22" numOctaves="2" seed="33"/><feColorMatrix type="matrix" values="0 0 0 0 0.42  0 0 0 0 0.38  0 0 0 0 0.6  0 2.4 0 0 -1.3"/><feComposite in2="SourceGraphic" operator="in"/></filter>
<filter id="tl3" x="0" y="0" width="1" height="1" color-interpolation-filters="sRGB"><feTurbulence type="turbulence" baseFrequency="0.07 0.1" numOctaves="2" seed="14"/><feColorMatrix type="matrix" values="0 0 0 0 1  0 0 0 0 1  0 0 0 0 1  -6 0 0 0 1.0"/><feComposite in2="SourceGraphic" operator="in"/></filter>
<filter id="tv3" x="0" y="0" width="1" height="1" color-interpolation-filters="sRGB"><feTurbulence type="turbulence" baseFrequency="0.08 0.12" numOctaves="2" seed="54"/><feColorMatrix type="matrix" values="0 0 0 0 0.35  0 0 0 0 0.32  0 0 0 0 0.55  -7 0 0 0 1.0"/><feComposite in2="SourceGraphic" operator="in"/></filter>
<filter id="td3" x="0" y="0" width="1" height="1" color-interpolation-filters="sRGB"><feTurbulence type="fractalNoise" baseFrequency="0.22" numOctaves="2" seed="34"/><feColorMatrix type="matrix" values="0 0 0 0 0.42  0 0 0 0 0.38  0 0 0 0 0.6  0 2.4 0 0 -1.3"/><feComposite in2="SourceGraphic" operator="in"/></filter>
<filter id="tl4" x="0" y="0" width="1" height="1" color-interpolation-filters="sRGB"><feTurbulence type="turbulence" baseFrequency="0.07 0.1" numOctaves="2" seed="15"/><feColorMatrix type="matrix" values="0 0 0 0 1  0 0 0 0 1  0 0 0 0 1  -6 0 0 0 1.0"/><feComposite in2="SourceGraphic" operator="in"/></filter>
<filter id="tv4" x="0" y="0" width="1" height="1" color-interpolation-filters="sRGB"><feTurbulence type="turbulence" baseFrequency="0.08 0.12" numOctaves="2" seed="55"/><feColorMatrix type="matrix" values="0 0 0 0 0.35  0 0 0 0 0.32  0 0 0 0 0.55  -7 0 0 0 1.0"/><feComposite in2="SourceGraphic" operator="in"/></filter>
<filter id="td4" x="0" y="0" width="1" height="1" color-interpolation-filters="sRGB"><feTurbulence type="fractalNoise" baseFrequency="0.22" numOctaves="2" seed="35"/><feColorMatrix type="matrix" values="0 0 0 0 0.42  0 0 0 0 0.38  0 0 0 0 0.6  0 2.4 0 0 -1.3"/><feComposite in2="SourceGraphic" operator="in"/></filter>
<filter id="tl5" x="0" y="0" width="1" height="1" color-interpolation-filters="sRGB"><feTurbulence type="turbulence" baseFrequency="0.07 0.1" numOctaves="2" seed="16"/><feColorMatrix type="matrix" values="0 0 0 0 1  0 0 0 0 1  0 0 0 0 1  -6 0 0 0 1.0"/><feComposite in2="SourceGraphic" operator="in"/></filter>
<filter id="tv5" x="0" y="0" width="1" height="1" color-interpolation-filters="sRGB"><feTurbulence type="turbulence" baseFrequency="0.08 0.12" numOctaves="2" seed="56"/><feColorMatrix type="matrix" values="0 0 0 0 0.35  0 0 0 0 0.32  0 0 0 0 0.55  -7 0 0 0 1.0"/><feComposite in2="SourceGraphic" operator="in"/></filter>
<filter id="td5" x="0" y="0" width="1" height="1" color-interpolation-filters="sRGB"><feTurbulence type="fractalNoise" baseFrequency="0.22" numOctaves="2" seed="36"/><feColorMatrix type="matrix" values="0 0 0 0 0.42  0 0 0 0 0.38  0 0 0 0 0.6  0 2.4 0 0 -1.3"/><feComposite in2="SourceGraphic" operator="in"/></filter>
<filter id="grain" x="0" y="0" width="1" height="1" color-interpolation-filters="sRGB"><feTurbulence type="fractalNoise" baseFrequency="0.3" numOctaves="2" seed="77"/><feGaussianBlur stdDeviation="0.35"/><feColorMatrix type="matrix" values="0 0 0 0 0.38  0 0 0 0 0.36  0 0 0 0 0.55  2.6 0 0 0 -1.15"/><feComposite in2="SourceGraphic" operator="in"/></filter>
<filter id="grainl" x="0" y="0" width="1" height="1" color-interpolation-filters="sRGB"><feTurbulence type="fractalNoise" baseFrequency="0.28" numOctaves="2" seed="78"/><feGaussianBlur stdDeviation="0.35"/><feColorMatrix type="matrix" values="0 0 0 0 1  0 0 0 0 1  0 0 0 0 1  0 2.6 0 0 -1.15"/><feComposite in2="SourceGraphic" operator="in"/></filter>
<filter id="sblur" x="-20%" y="-20%" width="140%" height="140%" color-interpolation-filters="sRGB"><feTurbulence type="fractalNoise" baseFrequency="0.2" numOctaves="2" seed="5" result="n"/><feGaussianBlur in="SourceGraphic" stdDeviation="2.2" result="b"/><feColorMatrix in="n" type="matrix" values="0 0 0 0 0  0 0 0 0 0  0 0 0 0 0  0 0 0 2.4 -0.55" result="m"/><feComposite in="b" in2="m" operator="in"/></filter>
<filter id="sblur2" x="-20%" y="-20%" width="140%" height="140%"><feGaussianBlur stdDeviation="3"/></filter>
</defs>
<g clip-path="url(#tc0)">
<rect x="202.00" y="466.30" width="95.50" height="67.50" fill="#b2afd3" />
<path d="M202,466 L273,466 L268,476 L262,488 L264,500 L266,511 L258,507 L248,500 L232,498 L218,495 L208,489 L202,485 Z" fill="#b08c9c" opacity="0.5" filter="url(#sblur2)"/>
<path d="M202,466 L273,466 L268,476 L262,488 L264,500 L266,511 L258,507 L248,500 L232,498 L218,495 L208,489 L202,485 Z" fill="#9a5a60" opacity="0.5" filter="url(#sblur)"/>
<path d="M230,466 L252,466 L264,482 L266,500 L260,503 L250,490 L236,478 Z" fill="#a8705c" opacity="0.75" filter="url(#sblur)"/>
<path d="M254,470 L270,468 L266,486 L266,508 L260,500 Z" fill="#a87058" opacity="0.6" filter="url(#sblur)"/>
<rect x="202.00" y="466.30" width="95.50" height="67.50" fill="#000" filter="url(#tl0)" opacity="0.33"/>
<rect x="202.00" y="466.30" width="95.50" height="67.50" fill="#000" filter="url(#tv0)" opacity="0.23"/>
<rect x="202.00" y="466.30" width="95.50" height="67.50" fill="#000" filter="url(#td0)" opacity="0.22"/>
<rect x="202.00" y="466.30" width="95.50" height="67.50" fill="#000" filter="url(#grain)" opacity="0.18"/>
<rect x="202.00" y="466.30" width="95.50" height="67.50" fill="#000" filter="url(#grainl)" opacity="0.14"/>
</g>
<g clip-path="url(#tc1)">
<rect x="301.30" y="466.30" width="95.00" height="67.50" fill="#b6b8da" />
<path d="M301,480 L316,478 L328,490 L340,504 L326,514 L304,514 Z" fill="#c0a48c" opacity="0.6" filter="url(#sblur)"/>
<path d="M336,466 L372,466 L372,478 L356,484 L340,480 Z" fill="#c0a48c" opacity="0.55" filter="url(#sblur)"/>
<path d="M384,484 L396,478 L396,528 L386,522 Z" fill="#c0a48c" opacity="0.6" filter="url(#sblur)"/>
<path d="M301,466 L396,466 L396,482 L301,480 Z" fill="#b49cc0" opacity="0.35" filter="url(#sblur2)"/>
<rect x="301.30" y="466.30" width="95.00" height="67.50" fill="#000" filter="url(#tl1)" opacity="0.33"/>
<rect x="301.30" y="466.30" width="95.00" height="67.50" fill="#000" filter="url(#tv1)" opacity="0.23"/>
<rect x="301.30" y="466.30" width="95.00" height="67.50" fill="#000" filter="url(#td1)" opacity="0.22"/>
<rect x="301.30" y="466.30" width="95.00" height="67.50" fill="#000" filter="url(#grain)" opacity="0.18"/>
<rect x="301.30" y="466.30" width="95.00" height="67.50" fill="#000" filter="url(#grainl)" opacity="0.14"/>
</g>
<g clip-path="url(#tc2)">
<rect x="399.50" y="466.30" width="95.00" height="67.50" fill="#b9aad0" />
<path d="M428,478 L446,486 L458,504 L470,498 L494,482 L494,534 L466,534 L462,512 L448,514 L436,500 Z" fill="#a06a74" opacity="0.5" filter="url(#sblur)"/>
<path d="M404,466 L440,466 L436,474 L410,476 Z" fill="#a87888" opacity="0.4" filter="url(#sblur)"/>
<rect x="399.50" y="466.30" width="95.00" height="67.50" fill="#000" filter="url(#tl2)" opacity="0.28"/>
<rect x="399.50" y="466.30" width="95.00" height="67.50" fill="#000" filter="url(#tv2)" opacity="0.20"/>
<rect x="399.50" y="466.30" width="95.00" height="67.50" fill="#000" filter="url(#td2)" opacity="0.22"/>
<rect x="399.50" y="466.30" width="95.00" height="67.50" fill="#000" filter="url(#grain)" opacity="0.18"/>
<rect x="399.50" y="466.30" width="95.00" height="67.50" fill="#000" filter="url(#grainl)" opacity="0.14"/>
</g>
<g clip-path="url(#tc3)">
<rect x="202.00" y="536.50" width="95.50" height="67.80" fill="#b7bcdc" />
<path d="M245,536 L275,536 L298,560 L298,604 L282,604 L262,572 Z" fill="#b8a4c4" opacity="0.45" filter="url(#sblur2)"/>
<path d="M284,574 L298,568 L298,604 L288,604 Z" fill="#b89890" opacity="0.45" filter="url(#sblur)"/>
<rect x="202.00" y="536.50" width="95.50" height="67.80" fill="#000" filter="url(#tl3)" opacity="0.33"/>
<rect x="202.00" y="536.50" width="95.50" height="67.80" fill="#000" filter="url(#tv3)" opacity="0.23"/>
<rect x="202.00" y="536.50" width="95.50" height="67.80" fill="#000" filter="url(#td3)" opacity="0.22"/>
<rect x="202.00" y="536.50" width="95.50" height="67.80" fill="#000" filter="url(#grain)" opacity="0.15"/>
<rect x="202.00" y="536.50" width="95.50" height="67.80" fill="#000" filter="url(#grainl)" opacity="0.12"/>
</g>
<g clip-path="url(#tc4)">
<rect x="301.30" y="536.50" width="95.00" height="67.80" fill="#bdc6e2" />
<rect x="301.30" y="536.50" width="95.00" height="67.80" fill="#000" filter="url(#tl4)" opacity="0.33"/>
<rect x="301.30" y="536.50" width="95.00" height="67.80" fill="#000" filter="url(#tv4)" opacity="0.23"/>
<rect x="301.30" y="536.50" width="95.00" height="67.80" fill="#000" filter="url(#td4)" opacity="0.22"/>
<rect x="301.30" y="536.50" width="95.00" height="67.80" fill="#000" filter="url(#grain)" opacity="0.15"/>
<rect x="301.30" y="536.50" width="95.00" height="67.80" fill="#000" filter="url(#grainl)" opacity="0.12"/>
</g>
<g clip-path="url(#tc5)">
<rect x="399.50" y="536.50" width="95.00" height="67.80" fill="#b2b0d4" />
<rect x="399.50" y="536.50" width="95.00" height="67.80" fill="#000" filter="url(#tl5)" opacity="0.2"/>
<rect x="399.50" y="536.50" width="95.00" height="67.80" fill="#000" filter="url(#tv5)" opacity="0.14"/>
<rect x="399.50" y="536.50" width="95.00" height="67.80" fill="#000" filter="url(#td5)" opacity="0.22"/>
<rect x="399.50" y="536.50" width="95.00" height="67.80" fill="#000" filter="url(#grain)" opacity="0.28"/>
<rect x="399.50" y="536.50" width="95.00" height="67.80" fill="#000" filter="url(#grainl)" opacity="0.22"/>
</g>
<circle cx="231.8" cy="480.1" r="0.37" fill="#8a3656" opacity="0.55"/>
<circle cx="256.0" cy="467.2" r="0.55" fill="#8a3656" opacity="0.55"/>
<circle cx="257.9" cy="469.8" r="0.58" fill="#8a3656" opacity="0.55"/>
<circle cx="241.0" cy="468.4" r="0.49" fill="#8a3656" opacity="0.55"/>
<circle cx="246.2" cy="482.8" r="0.66" fill="#8a3656" opacity="0.55"/>
<circle cx="213.4" cy="475.3" r="0.36" fill="#8a3656" opacity="0.55"/>
<circle cx="234.4" cy="499.3" r="0.60" fill="#8a3656" opacity="0.55"/>
<circle cx="250.5" cy="480.4" r="0.67" fill="#8a3656" opacity="0.55"/>
<circle cx="210.1" cy="477.2" r="0.64" fill="#8a3656" opacity="0.55"/>
<circle cx="247.5" cy="481.8" r="0.34" fill="#8a3656" opacity="0.55"/>
<circle cx="220.0" cy="474.3" r="0.44" fill="#8a3656" opacity="0.55"/>
<circle cx="252.6" cy="474.0" r="0.74" fill="#8a3656" opacity="0.55"/>
<circle cx="256.8" cy="468.9" r="0.49" fill="#8a3656" opacity="0.55"/>
<circle cx="233.5" cy="467.8" r="0.51" fill="#8a3656" opacity="0.55"/>
<circle cx="258.4" cy="470.9" r="0.60" fill="#8a3656" opacity="0.55"/>
<circle cx="211.3" cy="487.3" r="0.75" fill="#8a3656" opacity="0.55"/>
<circle cx="216.2" cy="467.3" r="0.34" fill="#8a3656" opacity="0.55"/>
<circle cx="236.4" cy="467.6" r="0.34" fill="#8a3656" opacity="0.55"/>
<circle cx="233.8" cy="499.2" r="0.51" fill="#8a3656" opacity="0.55"/>
<circle cx="227.9" cy="489.4" r="0.35" fill="#8a3656" opacity="0.55"/>
<circle cx="238.8" cy="473.0" r="0.60" fill="#8a3656" opacity="0.55"/>
<circle cx="261.5" cy="468.9" r="0.58" fill="#8a3656" opacity="0.55"/>
<circle cx="240.4" cy="472.2" r="0.43" fill="#8a3656" opacity="0.55"/>
<circle cx="263.7" cy="501.9" r="0.36" fill="#8a3656" opacity="0.55"/>
<circle cx="246.3" cy="500.3" r="0.42" fill="#8a3656" opacity="0.55"/>
<circle cx="240.7" cy="468.5" r="0.48" fill="#8a3656" opacity="0.55"/>
<circle cx="244.4" cy="487.7" r="0.69" fill="#8a3656" opacity="0.55"/>
<circle cx="209.2" cy="479.2" r="0.73" fill="#8a3656" opacity="0.55"/>
<circle cx="239.0" cy="482.8" r="0.50" fill="#8a3656" opacity="0.55"/>
<circle cx="263.2" cy="487.1" r="0.31" fill="#8a3656" opacity="0.55"/>
<circle cx="252.0" cy="478.5" r="0.52" fill="#8a3656" opacity="0.55"/>
<circle cx="216.8" cy="482.5" r="0.46" fill="#8a3656" opacity="0.55"/>
<circle cx="209.3" cy="489.0" r="0.35" fill="#8a3656" opacity="0.55"/>
<circle cx="251.0" cy="467.9" r="0.69" fill="#8a3656" opacity="0.55"/>
<circle cx="252.5" cy="484.4" r="0.65" fill="#8a3656" opacity="0.55"/>
<circle cx="218.9" cy="492.8" r="0.51" fill="#8a3656" opacity="0.55"/>
<circle cx="217.9" cy="500.7" r="0.50" fill="#8a3656" opacity="0.55"/>
<circle cx="226.4" cy="497.1" r="0.48" fill="#8a3656" opacity="0.55"/>
<circle cx="244.1" cy="473.0" r="0.72" fill="#8a3656" opacity="0.55"/>
<circle cx="219.5" cy="468.8" r="0.79" fill="#8a3656" opacity="0.55"/>
<circle cx="214.4" cy="500.1" r="0.79" fill="#8a3656" opacity="0.55"/>
<circle cx="240.4" cy="467.4" r="0.33" fill="#8a3656" opacity="0.55"/>
<circle cx="216.5" cy="480.6" r="0.61" fill="#8a3656" opacity="0.55"/>
<circle cx="262.0" cy="479.4" r="0.37" fill="#8a3656" opacity="0.55"/>
<circle cx="237.7" cy="471.8" r="0.34" fill="#8a3656" opacity="0.55"/>
<circle cx="237.4" cy="491.4" r="0.33" fill="#8a3656" opacity="0.55"/>
<circle cx="231.1" cy="491.6" r="0.68" fill="#8a3656" opacity="0.55"/>
<circle cx="227.0" cy="498.1" r="0.38" fill="#8a3656" opacity="0.55"/>
<circle cx="246.9" cy="494.0" r="0.74" fill="#8a3656" opacity="0.55"/>
<circle cx="233.7" cy="470.5" r="0.32" fill="#8a3656" opacity="0.55"/>
<circle cx="235.7" cy="473.1" r="0.61" fill="#8a3656" opacity="0.55"/>
<circle cx="209.1" cy="494.3" r="0.41" fill="#8a3656" opacity="0.55"/>
<circle cx="204.8" cy="473.2" r="0.53" fill="#8a3656" opacity="0.55"/>
<circle cx="237.6" cy="480.6" r="0.39" fill="#8a3656" opacity="0.55"/>
<circle cx="232.9" cy="500.1" r="0.57" fill="#8a3656" opacity="0.55"/>
<circle cx="260.5" cy="468.0" r="0.80" fill="#8a3656" opacity="0.55"/>
<circle cx="257.3" cy="486.1" r="0.56" fill="#8a3656" opacity="0.55"/>
<circle cx="236.2" cy="498.8" r="0.33" fill="#8a3656" opacity="0.55"/>
<circle cx="242.6" cy="486.0" r="0.45" fill="#8a3656" opacity="0.55"/>
<circle cx="247.5" cy="492.2" r="0.35" fill="#8a3656" opacity="0.55"/>
<circle cx="246.0" cy="482.9" r="0.55" fill="#8a3656" opacity="0.55"/>
<circle cx="242.2" cy="468.9" r="0.60" fill="#8a3656" opacity="0.55"/>
<circle cx="226.4" cy="497.8" r="0.42" fill="#8a3656" opacity="0.55"/>
<circle cx="253.4" cy="492.5" r="0.61" fill="#8a3656" opacity="0.55"/>
<circle cx="256.6" cy="468.3" r="0.60" fill="#8a3656" opacity="0.55"/>
<circle cx="240.8" cy="490.7" r="0.50" fill="#8a3656" opacity="0.55"/>
<circle cx="208.1" cy="473.6" r="0.60" fill="#8a3656" opacity="0.55"/>
<circle cx="214.9" cy="469.3" r="0.48" fill="#8a3656" opacity="0.55"/>
<circle cx="232.2" cy="485.7" r="0.31" fill="#8a3656" opacity="0.55"/>
<circle cx="250.5" cy="478.7" r="0.69" fill="#8a3656" opacity="0.55"/>
<circle cx="204.5" cy="500.4" r="0.60" fill="#8a3656" opacity="0.55"/>
<circle cx="262.6" cy="501.5" r="0.72" fill="#8a3656" opacity="0.55"/>
<circle cx="210.4" cy="479.2" r="0.42" fill="#8a3656" opacity="0.55"/>
<circle cx="250.8" cy="473.7" r="0.41" fill="#8a3656" opacity="0.55"/>
<circle cx="210.6" cy="471.2" r="0.77" fill="#8a3656" opacity="0.55"/>
<circle cx="262.6" cy="480.0" r="0.67" fill="#8a3656" opacity="0.55"/>
<circle cx="232.1" cy="485.3" r="0.48" fill="#8a3656" opacity="0.55"/>
<circle cx="242.1" cy="475.3" r="0.43" fill="#8a3656" opacity="0.55"/>
<circle cx="235.1" cy="473.9" r="0.52" fill="#8a3656" opacity="0.55"/>
<circle cx="260.6" cy="467.8" r="0.35" fill="#8a3656" opacity="0.55"/>
<circle cx="252.0" cy="469.0" r="0.43" fill="#8a3656" opacity="0.55"/>
<circle cx="255.1" cy="488.2" r="0.41" fill="#8a3656" opacity="0.55"/>
<circle cx="207.5" cy="476.6" r="0.45" fill="#8a3656" opacity="0.55"/>
<circle cx="252.0" cy="501.1" r="0.69" fill="#8a3656" opacity="0.55"/>
<circle cx="258.1" cy="499.6" r="0.74" fill="#8a3656" opacity="0.55"/>
<circle cx="259.2" cy="500.9" r="0.35" fill="#8a3656" opacity="0.55"/>
<circle cx="223.1" cy="475.7" r="0.60" fill="#8a3656" opacity="0.55"/>
<circle cx="233.5" cy="479.1" r="0.72" fill="#8a3656" opacity="0.55"/>
<circle cx="227.9" cy="474.3" r="0.44" fill="#8a3656" opacity="0.55"/>
<circle cx="231.7" cy="488.4" r="0.58" fill="#8a3656" opacity="0.55"/>
<filter id="bl3"><feGaussianBlur stdDeviation="0.5"/></filter>
<g filter="url(#bl3)">
<circle cx="369.1" cy="511.3" r="1.05" fill="#8a5094" opacity="0.42"/>
<circle cx="370.0" cy="512.2" r="0.85" fill="#8a5094" opacity="0.42"/>
<circle cx="368.3" cy="510.7" r="0.76" fill="#8a5094" opacity="0.42"/>
<circle cx="383.4" cy="473.0" r="0.81" fill="#8a5094" opacity="0.42"/>
<circle cx="383.6" cy="473.2" r="0.78" fill="#8a5094" opacity="0.42"/>
<circle cx="378.3" cy="529.7" r="1.16" fill="#8a5094" opacity="0.42"/>
<circle cx="376.3" cy="530.0" r="0.56" fill="#8a5094" opacity="0.42"/>
<circle cx="378.6" cy="527.8" r="0.61" fill="#8a5094" opacity="0.42"/>
<circle cx="378.4" cy="528.9" r="0.61" fill="#8a5094" opacity="0.42"/>
<circle cx="383.3" cy="497.2" r="0.97" fill="#8a5094" opacity="0.42"/>
<circle cx="385.5" cy="498.6" r="1.16" fill="#8a5094" opacity="0.42"/>
<circle cx="390.7" cy="531.2" r="1.08" fill="#8a5094" opacity="0.42"/>
<circle cx="369.6" cy="528.4" r="0.85" fill="#8a5094" opacity="0.42"/>
<circle cx="369.7" cy="527.0" r="0.69" fill="#8a5094" opacity="0.42"/>
<circle cx="371.2" cy="526.1" r="1.00" fill="#8a5094" opacity="0.42"/>
<circle cx="371.7" cy="525.6" r="0.55" fill="#8a5094" opacity="0.42"/>
<circle cx="382.8" cy="501.8" r="0.63" fill="#8a5094" opacity="0.42"/>
<circle cx="381.6" cy="501.0" r="1.15" fill="#8a5094" opacity="0.42"/>
<circle cx="382.1" cy="501.7" r="0.71" fill="#8a5094" opacity="0.42"/>
<circle cx="368.0" cy="471.8" r="0.98" fill="#8a5094" opacity="0.42"/>
<circle cx="367.7" cy="473.4" r="1.17" fill="#8a5094" opacity="0.42"/>
<circle cx="377.8" cy="531.3" r="0.76" fill="#8a5094" opacity="0.42"/>
<circle cx="371.8" cy="523.9" r="0.79" fill="#8a5094" opacity="0.42"/>
<circle cx="372.4" cy="522.7" r="0.70" fill="#8a5094" opacity="0.42"/>
<circle cx="390.2" cy="509.2" r="0.55" fill="#8a5094" opacity="0.42"/>
<circle cx="375.2" cy="525.5" r="0.68" fill="#8a5094" opacity="0.42"/>
<circle cx="375.9" cy="525.6" r="1.01" fill="#8a5094" opacity="0.42"/>
<circle cx="365.8" cy="482.7" r="0.92" fill="#8a5094" opacity="0.42"/>
<circle cx="364.7" cy="481.8" r="1.09" fill="#8a5094" opacity="0.42"/>
<circle cx="364.3" cy="481.7" r="0.69" fill="#8a5094" opacity="0.42"/>
<circle cx="389.2" cy="467.2" r="0.92" fill="#8a5094" opacity="0.42"/>
<circle cx="388.2" cy="469.7" r="0.91" fill="#8a5094" opacity="0.42"/>
<circle cx="370.9" cy="492.7" r="0.57" fill="#8a5094" opacity="0.42"/>
<circle cx="370.5" cy="493.8" r="0.60" fill="#8a5094" opacity="0.42"/>
<circle cx="390.3" cy="511.3" r="0.78" fill="#8a5094" opacity="0.42"/>
<circle cx="392.1" cy="510.3" r="0.63" fill="#8a5094" opacity="0.42"/>
<circle cx="390.9" cy="480.9" r="1.02" fill="#8a5094" opacity="0.42"/>
<circle cx="365.6" cy="526.2" r="1.03" fill="#8a5094" opacity="0.42"/>
<circle cx="364.8" cy="528.1" r="0.68" fill="#8a5094" opacity="0.42"/>
<circle cx="366.3" cy="526.9" r="0.53" fill="#8a5094" opacity="0.42"/>
<circle cx="365.4" cy="526.9" r="1.13" fill="#8a5094" opacity="0.42"/>
<circle cx="374.5" cy="499.0" r="0.92" fill="#8a5094" opacity="0.42"/>
<circle cx="373.2" cy="500.9" r="1.18" fill="#8a5094" opacity="0.42"/>
<circle cx="372.6" cy="500.8" r="0.87" fill="#8a5094" opacity="0.42"/>
<circle cx="373.3" cy="498.9" r="1.07" fill="#8a5094" opacity="0.42"/>
<circle cx="394.8" cy="490.5" r="1.11" fill="#8a5094" opacity="0.42"/>
<circle cx="394.7" cy="491.1" r="1.07" fill="#8a5094" opacity="0.42"/>
<circle cx="395.7" cy="490.7" r="1.16" fill="#8a5094" opacity="0.42"/>
<circle cx="385.1" cy="512.8" r="0.78" fill="#8a5094" opacity="0.42"/>
<circle cx="384.3" cy="511.8" r="0.80" fill="#8a5094" opacity="0.42"/>
<circle cx="384.3" cy="513.8" r="1.07" fill="#8a5094" opacity="0.42"/>
<circle cx="385.7" cy="513.0" r="0.67" fill="#8a5094" opacity="0.42"/>
<circle cx="374.6" cy="498.2" r="0.76" fill="#8a5094" opacity="0.42"/>
<circle cx="383.1" cy="482.6" r="0.97" fill="#8a5094" opacity="0.42"/>
<circle cx="383.8" cy="482.4" r="0.98" fill="#8a5094" opacity="0.42"/>
<circle cx="382.0" cy="483.1" r="0.77" fill="#8a5094" opacity="0.42"/>
<circle cx="383.1" cy="482.8" r="1.17" fill="#8a5094" opacity="0.42"/>
<circle cx="393.8" cy="469.5" r="1.00" fill="#8a5094" opacity="0.42"/>
<circle cx="393.4" cy="467.4" r="0.87" fill="#8a5094" opacity="0.42"/>
<circle cx="395.0" cy="468.0" r="1.02" fill="#8a5094" opacity="0.42"/>
<circle cx="395.1" cy="530.5" r="0.73" fill="#8a5094" opacity="0.42"/>
<circle cx="394.9" cy="532.0" r="0.68" fill="#8a5094" opacity="0.42"/>
<circle cx="394.8" cy="490.0" r="1.13" fill="#8a5094" opacity="0.42"/>
<circle cx="393.5" cy="487.8" r="0.98" fill="#8a5094" opacity="0.42"/>
<circle cx="394.1" cy="487.6" r="0.77" fill="#8a5094" opacity="0.42"/>
<circle cx="377.0" cy="498.0" r="0.94" fill="#8a5094" opacity="0.42"/>
<circle cx="375.2" cy="498.9" r="0.65" fill="#8a5094" opacity="0.42"/>
<circle cx="376.0" cy="497.9" r="1.11" fill="#8a5094" opacity="0.42"/>
<circle cx="375.1" cy="472.6" r="0.81" fill="#8a5094" opacity="0.42"/>
<circle cx="393.5" cy="527.7" r="0.82" fill="#8a5094" opacity="0.42"/>
<circle cx="395.9" cy="527.9" r="0.59" fill="#8a5094" opacity="0.42"/>
<circle cx="388.0" cy="520.4" r="1.12" fill="#8a5094" opacity="0.42"/>
<circle cx="372.7" cy="503.3" r="0.91" fill="#8a5094" opacity="0.42"/>
<circle cx="370.3" cy="506.0" r="1.02" fill="#8a5094" opacity="0.42"/>
<circle cx="372.4" cy="503.9" r="0.54" fill="#8a5094" opacity="0.42"/>
<circle cx="372.5" cy="505.1" r="0.93" fill="#8a5094" opacity="0.42"/>
<circle cx="377.6" cy="518.2" r="0.70" fill="#8a5094" opacity="0.42"/>
<circle cx="379.0" cy="517.7" r="1.06" fill="#8a5094" opacity="0.42"/>
<circle cx="379.1" cy="518.3" r="0.57" fill="#8a5094" opacity="0.42"/>
<circle cx="388.4" cy="489.7" r="0.85" fill="#8a5094" opacity="0.42"/>
<circle cx="390.2" cy="491.5" r="0.61" fill="#8a5094" opacity="0.42"/>
<circle cx="388.5" cy="492.3" r="0.88" fill="#8a5094" opacity="0.42"/>
<circle cx="375.4" cy="513.2" r="0.65" fill="#8a5094" opacity="0.42"/>
<circle cx="375.3" cy="511.8" r="0.87" fill="#8a5094" opacity="0.42"/>
<circle cx="377.0" cy="511.2" r="1.00" fill="#8a5094" opacity="0.42"/>
<circle cx="376.6" cy="511.2" r="1.10" fill="#8a5094" opacity="0.42"/>
<circle cx="388.2" cy="526.8" r="1.13" fill="#8a5094" opacity="0.42"/>
<circle cx="380.2" cy="527.5" r="1.16" fill="#8a5094" opacity="0.42"/>
<circle cx="381.4" cy="524.7" r="0.75" fill="#8a5094" opacity="0.42"/>
<circle cx="380.9" cy="526.5" r="1.03" fill="#8a5094" opacity="0.42"/>
<circle cx="383.2" cy="479.8" r="0.89" fill="#8a5094" opacity="0.42"/>
<circle cx="384.9" cy="479.1" r="1.12" fill="#8a5094" opacity="0.42"/>
<circle cx="383.6" cy="477.1" r="0.78" fill="#8a5094" opacity="0.42"/>
<circle cx="383.1" cy="478.5" r="1.07" fill="#8a5094" opacity="0.42"/>
<circle cx="376.5" cy="477.8" r="1.03" fill="#8a5094" opacity="0.42"/>
<circle cx="393.7" cy="515.5" r="0.76" fill="#8a5094" opacity="0.42"/>
<circle cx="394.0" cy="486.7" r="0.95" fill="#8a5094" opacity="0.42"/>
<circle cx="395.5" cy="487.7" r="0.96" fill="#8a5094" opacity="0.42"/>
<circle cx="313.8" cy="518.3" r="0.53" fill="#8a5094" opacity="0.38"/>
<circle cx="315.7" cy="517.4" r="1.05" fill="#8a5094" opacity="0.38"/>
<circle cx="314.2" cy="518.1" r="0.71" fill="#8a5094" opacity="0.38"/>
<circle cx="313.6" cy="517.5" r="0.61" fill="#8a5094" opacity="0.38"/>
<circle cx="309.3" cy="510.3" r="0.64" fill="#8a5094" opacity="0.38"/>
<circle cx="308.3" cy="509.5" r="1.07" fill="#8a5094" opacity="0.38"/>
<circle cx="309.1" cy="507.5" r="0.76" fill="#8a5094" opacity="0.38"/>
<circle cx="342.9" cy="520.2" r="0.81" fill="#8a5094" opacity="0.38"/>
<circle cx="344.0" cy="518.7" r="0.68" fill="#8a5094" opacity="0.38"/>
<circle cx="342.1" cy="520.5" r="1.01" fill="#8a5094" opacity="0.38"/>
<circle cx="343.2" cy="518.9" r="1.13" fill="#8a5094" opacity="0.38"/>
<circle cx="332.5" cy="515.2" r="0.59" fill="#8a5094" opacity="0.38"/>
<circle cx="340.1" cy="529.8" r="0.65" fill="#8a5094" opacity="0.38"/>
<circle cx="311.5" cy="520.5" r="0.73" fill="#8a5094" opacity="0.38"/>
<circle cx="312.8" cy="519.5" r="0.64" fill="#8a5094" opacity="0.38"/>
<circle cx="311.3" cy="518.6" r="0.99" fill="#8a5094" opacity="0.38"/>
<circle cx="312.1" cy="518.8" r="1.12" fill="#8a5094" opacity="0.38"/>
<circle cx="335.0" cy="508.3" r="0.85" fill="#8a5094" opacity="0.38"/>
<circle cx="336.1" cy="508.1" r="0.95" fill="#8a5094" opacity="0.38"/>
<circle cx="333.5" cy="516.6" r="0.95" fill="#8a5094" opacity="0.38"/>
<circle cx="334.4" cy="517.0" r="0.81" fill="#8a5094" opacity="0.38"/>
<circle cx="333.0" cy="517.8" r="1.13" fill="#8a5094" opacity="0.38"/>
<circle cx="343.7" cy="525.6" r="0.51" fill="#8a5094" opacity="0.38"/>
<circle cx="314.7" cy="523.3" r="0.63" fill="#8a5094" opacity="0.38"/>
<circle cx="314.5" cy="525.0" r="1.09" fill="#8a5094" opacity="0.38"/>
<circle cx="314.7" cy="523.5" r="0.87" fill="#8a5094" opacity="0.38"/>
<circle cx="306.9" cy="518.3" r="0.88" fill="#8a5094" opacity="0.38"/>
<circle cx="305.5" cy="513.6" r="1.05" fill="#8a5094" opacity="0.38"/>
<circle cx="348.1" cy="526.1" r="1.06" fill="#8a5094" opacity="0.38"/>
<circle cx="335.0" cy="529.2" r="1.12" fill="#8a5094" opacity="0.38"/>
<circle cx="337.2" cy="529.5" r="0.63" fill="#8a5094" opacity="0.38"/>
<circle cx="337.6" cy="528.0" r="1.18" fill="#8a5094" opacity="0.38"/>
<circle cx="337.2" cy="529.9" r="0.87" fill="#8a5094" opacity="0.38"/>
<circle cx="310.7" cy="515.8" r="1.06" fill="#8a5094" opacity="0.38"/>
<circle cx="308.9" cy="515.5" r="0.56" fill="#8a5094" opacity="0.38"/>
<circle cx="309.7" cy="517.1" r="1.03" fill="#8a5094" opacity="0.38"/>
<circle cx="309.1" cy="515.6" r="0.58" fill="#8a5094" opacity="0.38"/>
<circle cx="333.7" cy="519.4" r="1.08" fill="#8a5094" opacity="0.38"/>
<circle cx="335.1" cy="517.4" r="1.18" fill="#8a5094" opacity="0.38"/>
<circle cx="311.5" cy="529.6" r="0.93" fill="#8a5094" opacity="0.38"/>
<circle cx="312.7" cy="530.0" r="0.51" fill="#8a5094" opacity="0.38"/>
<circle cx="326.3" cy="513.0" r="0.74" fill="#8a5094" opacity="0.38"/>
<circle cx="327.6" cy="511.1" r="0.96" fill="#8a5094" opacity="0.38"/>
<circle cx="323.6" cy="526.3" r="1.13" fill="#8a5094" opacity="0.38"/>
<circle cx="323.6" cy="525.3" r="0.60" fill="#8a5094" opacity="0.38"/>
<circle cx="324.1" cy="526.9" r="0.96" fill="#8a5094" opacity="0.38"/>
<circle cx="323.9" cy="526.4" r="0.99" fill="#8a5094" opacity="0.38"/>
<circle cx="338.0" cy="511.4" r="0.73" fill="#8a5094" opacity="0.38"/>
<circle cx="321.7" cy="530.0" r="0.90" fill="#8a5094" opacity="0.38"/>
<circle cx="322.2" cy="530.6" r="1.19" fill="#8a5094" opacity="0.38"/>
<circle cx="341.5" cy="514.7" r="1.08" fill="#8a5094" opacity="0.38"/>
<circle cx="394.4" cy="500.4" r="0.80" fill="#8e5a9a" opacity="0.35"/>
<circle cx="393.5" cy="499.3" r="0.59" fill="#8e5a9a" opacity="0.35"/>
<circle cx="338.7" cy="475.8" r="0.58" fill="#8e5a9a" opacity="0.35"/>
<circle cx="344.9" cy="472.8" r="0.71" fill="#8e5a9a" opacity="0.35"/>
<circle cx="345.9" cy="473.4" r="0.79" fill="#8e5a9a" opacity="0.35"/>
<circle cx="345.7" cy="473.5" r="0.58" fill="#8e5a9a" opacity="0.35"/>
<circle cx="334.3" cy="514.1" r="1.12" fill="#8e5a9a" opacity="0.35"/>
<circle cx="333.7" cy="512.5" r="0.87" fill="#8e5a9a" opacity="0.35"/>
<circle cx="334.9" cy="513.3" r="0.64" fill="#8e5a9a" opacity="0.35"/>
<circle cx="315.5" cy="473.4" r="0.62" fill="#8e5a9a" opacity="0.35"/>
<circle cx="316.5" cy="473.0" r="0.52" fill="#8e5a9a" opacity="0.35"/>
<circle cx="377.7" cy="480.1" r="0.94" fill="#8e5a9a" opacity="0.35"/>
<circle cx="375.7" cy="479.9" r="0.57" fill="#8e5a9a" opacity="0.35"/>
<circle cx="387.8" cy="488.4" r="0.77" fill="#8e5a9a" opacity="0.35"/>
<circle cx="389.2" cy="487.1" r="1.15" fill="#8e5a9a" opacity="0.35"/>
<circle cx="387.0" cy="487.1" r="0.66" fill="#8e5a9a" opacity="0.35"/>
<circle cx="379.9" cy="516.0" r="1.18" fill="#8e5a9a" opacity="0.35"/>
<circle cx="379.6" cy="517.1" r="0.98" fill="#8e5a9a" opacity="0.35"/>
<circle cx="376.4" cy="481.1" r="1.14" fill="#8e5a9a" opacity="0.35"/>
<circle cx="373.7" cy="480.6" r="0.84" fill="#8e5a9a" opacity="0.35"/>
<circle cx="376.2" cy="479.0" r="0.88" fill="#8e5a9a" opacity="0.35"/>
<circle cx="373.8" cy="480.9" r="1.01" fill="#8e5a9a" opacity="0.35"/>
<circle cx="305.6" cy="486.3" r="1.12" fill="#8e5a9a" opacity="0.35"/>
<circle cx="306.0" cy="489.3" r="1.17" fill="#8e5a9a" opacity="0.35"/>
<circle cx="311.2" cy="494.0" r="0.69" fill="#8e5a9a" opacity="0.35"/>
<circle cx="310.6" cy="494.5" r="1.18" fill="#8e5a9a" opacity="0.35"/>
<circle cx="309.8" cy="495.4" r="0.60" fill="#8e5a9a" opacity="0.35"/>
<circle cx="311.6" cy="494.5" r="0.89" fill="#8e5a9a" opacity="0.35"/>
<circle cx="373.1" cy="493.1" r="1.14" fill="#8e5a9a" opacity="0.35"/>
<circle cx="361.2" cy="524.2" r="1.09" fill="#8e5a9a" opacity="0.35"/>
<circle cx="362.1" cy="524.8" r="1.04" fill="#8e5a9a" opacity="0.35"/>
<circle cx="362.2" cy="524.3" r="0.93" fill="#8e5a9a" opacity="0.35"/>
<circle cx="362.4" cy="525.0" r="1.03" fill="#8e5a9a" opacity="0.35"/>
<circle cx="360.0" cy="526.4" r="0.88" fill="#8e5a9a" opacity="0.35"/>
<circle cx="362.2" cy="526.4" r="1.16" fill="#8e5a9a" opacity="0.35"/>
<circle cx="359.9" cy="528.4" r="0.84" fill="#8e5a9a" opacity="0.35"/>
<circle cx="356.3" cy="485.6" r="1.07" fill="#8e5a9a" opacity="0.35"/>
<circle cx="358.7" cy="486.3" r="0.89" fill="#8e5a9a" opacity="0.35"/>
<circle cx="356.2" cy="486.8" r="0.62" fill="#8e5a9a" opacity="0.35"/>
<circle cx="303.5" cy="517.8" r="1.20" fill="#8e5a9a" opacity="0.35"/>
<circle cx="304.1" cy="516.9" r="0.93" fill="#8e5a9a" opacity="0.35"/>
<circle cx="320.2" cy="480.1" r="1.12" fill="#8e5a9a" opacity="0.35"/>
<circle cx="319.2" cy="479.6" r="1.00" fill="#8e5a9a" opacity="0.35"/>
<circle cx="319.2" cy="480.0" r="0.70" fill="#8e5a9a" opacity="0.35"/>
<circle cx="369.4" cy="484.2" r="0.87" fill="#8e5a9a" opacity="0.35"/>
<circle cx="370.2" cy="482.1" r="0.61" fill="#8e5a9a" opacity="0.35"/>
<circle cx="371.3" cy="483.9" r="0.57" fill="#8e5a9a" opacity="0.35"/>
<circle cx="363.7" cy="525.1" r="0.92" fill="#8e5a9a" opacity="0.35"/>
<circle cx="363.6" cy="526.6" r="0.56" fill="#8e5a9a" opacity="0.35"/>
<circle cx="391.9" cy="522.5" r="0.63" fill="#8e5a9a" opacity="0.35"/>
<circle cx="392.3" cy="521.9" r="0.71" fill="#8e5a9a" opacity="0.35"/>
<circle cx="391.8" cy="523.7" r="0.60" fill="#8e5a9a" opacity="0.35"/>
<circle cx="392.3" cy="521.9" r="0.94" fill="#8e5a9a" opacity="0.35"/>
<circle cx="316.8" cy="519.9" r="0.64" fill="#8e5a9a" opacity="0.35"/>
<circle cx="317.3" cy="518.4" r="0.58" fill="#8e5a9a" opacity="0.35"/>
<circle cx="316.8" cy="518.2" r="0.77" fill="#8e5a9a" opacity="0.35"/>
<circle cx="317.7" cy="519.5" r="1.06" fill="#8e5a9a" opacity="0.35"/>
<circle cx="345.0" cy="474.2" r="1.14" fill="#8e5a9a" opacity="0.35"/>
<circle cx="346.6" cy="472.3" r="0.86" fill="#8e5a9a" opacity="0.35"/>
<circle cx="345.2" cy="474.4" r="0.82" fill="#8e5a9a" opacity="0.35"/>
<circle cx="346.1" cy="473.2" r="0.84" fill="#8e5a9a" opacity="0.35"/>
<circle cx="328.0" cy="508.0" r="0.54" fill="#8e5a9a" opacity="0.35"/>
<circle cx="375.1" cy="512.6" r="0.90" fill="#8e5a9a" opacity="0.35"/>
<circle cx="376.0" cy="512.5" r="1.16" fill="#8e5a9a" opacity="0.35"/>
<circle cx="376.6" cy="513.1" r="1.13" fill="#8e5a9a" opacity="0.35"/>
<circle cx="384.2" cy="525.2" r="0.70" fill="#8e5a9a" opacity="0.35"/>
<circle cx="385.8" cy="524.7" r="0.52" fill="#8e5a9a" opacity="0.35"/>
<circle cx="361.1" cy="532.0" r="1.16" fill="#8e5a9a" opacity="0.35"/>
<circle cx="345.1" cy="517.8" r="0.68" fill="#8e5a9a" opacity="0.35"/>
<circle cx="346.5" cy="517.5" r="0.88" fill="#8e5a9a" opacity="0.35"/>
<circle cx="346.9" cy="517.7" r="0.94" fill="#8e5a9a" opacity="0.35"/>
<circle cx="345.7" cy="520.0" r="0.86" fill="#8e5a9a" opacity="0.35"/>
<circle cx="346.4" cy="526.2" r="1.16" fill="#8e5a9a" opacity="0.35"/>
<circle cx="348.3" cy="527.1" r="0.63" fill="#8e5a9a" opacity="0.35"/>
<circle cx="374.6" cy="483.1" r="0.64" fill="#8e5a9a" opacity="0.35"/>
<circle cx="375.6" cy="482.3" r="0.99" fill="#8e5a9a" opacity="0.35"/>
<circle cx="319.7" cy="473.9" r="0.91" fill="#8e5a9a" opacity="0.35"/>
<circle cx="319.7" cy="476.5" r="1.15" fill="#8e5a9a" opacity="0.35"/>
<circle cx="320.9" cy="476.1" r="0.67" fill="#8e5a9a" opacity="0.35"/>
<circle cx="320.3" cy="474.7" r="0.74" fill="#8e5a9a" opacity="0.35"/>
<circle cx="335.3" cy="498.7" r="0.59" fill="#8e5a9a" opacity="0.35"/>
<circle cx="338.2" cy="498.7" r="0.91" fill="#8e5a9a" opacity="0.35"/>
<circle cx="336.2" cy="499.2" r="1.00" fill="#8e5a9a" opacity="0.35"/>
<circle cx="387.6" cy="505.7" r="0.68" fill="#8e5a9a" opacity="0.35"/>
<circle cx="386.1" cy="504.2" r="0.53" fill="#8e5a9a" opacity="0.35"/>
<circle cx="388.0" cy="506.4" r="0.90" fill="#8e5a9a" opacity="0.35"/>
<circle cx="378.7" cy="500.8" r="1.05" fill="#8e5a9a" opacity="0.35"/>
<circle cx="380.4" cy="500.0" r="0.99" fill="#8e5a9a" opacity="0.35"/>
<circle cx="374.4" cy="518.7" r="1.14" fill="#8e5a9a" opacity="0.35"/>
<circle cx="373.4" cy="520.2" r="1.02" fill="#8e5a9a" opacity="0.35"/>
<circle cx="374.2" cy="518.9" r="0.74" fill="#8e5a9a" opacity="0.35"/>
<circle cx="303.4" cy="518.1" r="0.87" fill="#8e5a9a" opacity="0.35"/>
<circle cx="302.0" cy="518.3" r="1.14" fill="#8e5a9a" opacity="0.35"/>
<circle cx="301.0" cy="518.3" r="0.53" fill="#8e5a9a" opacity="0.35"/>
<circle cx="302.5" cy="519.5" r="0.66" fill="#8e5a9a" opacity="0.35"/>
<circle cx="256.6" cy="487.9" r="0.84" fill="#8e3050" opacity="0.45"/>
<circle cx="256.1" cy="487.2" r="0.95" fill="#8e3050" opacity="0.45"/>
<circle cx="219.8" cy="489.1" r="0.65" fill="#8e3050" opacity="0.45"/>
<circle cx="221.4" cy="488.5" r="1.09" fill="#8e3050" opacity="0.45"/>
<circle cx="219.9" cy="489.6" r="1.11" fill="#8e3050" opacity="0.45"/>
<circle cx="218.6" cy="485.2" r="0.74" fill="#8e3050" opacity="0.45"/>
<circle cx="219.6" cy="485.6" r="0.53" fill="#8e3050" opacity="0.45"/>
<circle cx="218.1" cy="484.8" r="0.85" fill="#8e3050" opacity="0.45"/>
<circle cx="219.2" cy="486.0" r="0.61" fill="#8e3050" opacity="0.45"/>
<circle cx="258.9" cy="483.1" r="0.86" fill="#8e3050" opacity="0.45"/>
<circle cx="258.6" cy="481.9" r="1.16" fill="#8e3050" opacity="0.45"/>
<circle cx="260.6" cy="480.5" r="1.13" fill="#8e3050" opacity="0.45"/>
<circle cx="260.1" cy="481.1" r="1.08" fill="#8e3050" opacity="0.45"/>
<circle cx="259.8" cy="481.1" r="0.82" fill="#8e3050" opacity="0.45"/>
<circle cx="240.3" cy="483.1" r="0.66" fill="#8e3050" opacity="0.45"/>
<circle cx="241.2" cy="481.2" r="0.92" fill="#8e3050" opacity="0.45"/>
<circle cx="240.0" cy="482.5" r="1.10" fill="#8e3050" opacity="0.45"/>
<circle cx="239.5" cy="481.2" r="0.75" fill="#8e3050" opacity="0.45"/>
<circle cx="212.9" cy="483.7" r="0.83" fill="#8e3050" opacity="0.45"/>
<circle cx="214.2" cy="481.0" r="0.76" fill="#8e3050" opacity="0.45"/>
<circle cx="212.9" cy="483.2" r="0.86" fill="#8e3050" opacity="0.45"/>
<circle cx="250.1" cy="478.5" r="0.96" fill="#8e3050" opacity="0.45"/>
<circle cx="248.3" cy="479.4" r="0.58" fill="#8e3050" opacity="0.45"/>
<circle cx="250.6" cy="479.0" r="1.00" fill="#8e3050" opacity="0.45"/>
<circle cx="206.9" cy="475.0" r="0.78" fill="#8e3050" opacity="0.45"/>
<circle cx="208.6" cy="473.4" r="0.51" fill="#8e3050" opacity="0.45"/>
<circle cx="206.9" cy="475.8" r="0.84" fill="#8e3050" opacity="0.45"/>
<circle cx="208.5" cy="473.5" r="0.98" fill="#8e3050" opacity="0.45"/>
<circle cx="257.7" cy="474.5" r="0.95" fill="#8e3050" opacity="0.45"/>
<circle cx="224.8" cy="494.2" r="1.03" fill="#8e3050" opacity="0.45"/>
<circle cx="225.1" cy="493.0" r="0.71" fill="#8e3050" opacity="0.45"/>
<circle cx="223.7" cy="493.6" r="0.55" fill="#8e3050" opacity="0.45"/>
<circle cx="238.1" cy="493.9" r="0.53" fill="#8e3050" opacity="0.45"/>
<circle cx="237.5" cy="491.2" r="0.71" fill="#8e3050" opacity="0.45"/>
<circle cx="238.3" cy="493.1" r="1.09" fill="#8e3050" opacity="0.45"/>
<circle cx="237.7" cy="493.2" r="0.88" fill="#8e3050" opacity="0.45"/>
<circle cx="226.6" cy="486.8" r="0.66" fill="#8e3050" opacity="0.45"/>
<circle cx="220.3" cy="481.2" r="1.09" fill="#8e3050" opacity="0.45"/>
<circle cx="211.4" cy="486.8" r="0.99" fill="#8e3050" opacity="0.45"/>
<circle cx="211.8" cy="485.1" r="0.59" fill="#8e3050" opacity="0.45"/>
<circle cx="212.5" cy="484.6" r="0.54" fill="#8e3050" opacity="0.45"/>
<circle cx="211.8" cy="484.7" r="0.82" fill="#8e3050" opacity="0.45"/>
<circle cx="240.4" cy="493.9" r="0.61" fill="#8e3050" opacity="0.45"/>
<circle cx="205.9" cy="492.8" r="0.76" fill="#8e3050" opacity="0.45"/>
<circle cx="219.2" cy="494.5" r="0.85" fill="#8e3050" opacity="0.45"/>
<circle cx="256.7" cy="473.2" r="0.80" fill="#8e3050" opacity="0.45"/>
<circle cx="258.9" cy="473.6" r="0.79" fill="#8e3050" opacity="0.45"/>
<circle cx="258.5" cy="473.1" r="0.89" fill="#8e3050" opacity="0.45"/>
<circle cx="215.8" cy="488.9" r="1.06" fill="#8e3050" opacity="0.45"/>
<circle cx="216.8" cy="486.9" r="1.17" fill="#8e3050" opacity="0.45"/>
<circle cx="215.1" cy="487.3" r="0.82" fill="#8e3050" opacity="0.45"/>
<circle cx="216.6" cy="489.1" r="1.06" fill="#8e3050" opacity="0.45"/>
<circle cx="220.6" cy="472.2" r="0.57" fill="#8e3050" opacity="0.45"/>
<circle cx="220.7" cy="472.2" r="0.93" fill="#8e3050" opacity="0.45"/>
<circle cx="258.9" cy="496.6" r="0.86" fill="#8e3050" opacity="0.45"/>
<circle cx="232.9" cy="501.2" r="1.06" fill="#8e3050" opacity="0.45"/>
<circle cx="232.0" cy="500.5" r="0.94" fill="#8e3050" opacity="0.45"/>
<circle cx="253.6" cy="484.1" r="1.15" fill="#8e3050" opacity="0.45"/>
<circle cx="253.8" cy="483.7" r="1.06" fill="#8e3050" opacity="0.45"/>
<circle cx="214.5" cy="494.8" r="1.07" fill="#8e3050" opacity="0.45"/>
<circle cx="214.3" cy="495.0" r="0.76" fill="#8e3050" opacity="0.45"/>
<circle cx="216.1" cy="493.8" r="1.10" fill="#8e3050" opacity="0.45"/>
<circle cx="461.9" cy="479.3" r="1.08" fill="#9a4a62" opacity="0.4"/>
<circle cx="458.0" cy="498.7" r="0.91" fill="#9a4a62" opacity="0.4"/>
<circle cx="459.0" cy="497.9" r="0.84" fill="#9a4a62" opacity="0.4"/>
<circle cx="457.0" cy="496.0" r="0.53" fill="#9a4a62" opacity="0.4"/>
<circle cx="468.4" cy="507.5" r="0.63" fill="#9a4a62" opacity="0.4"/>
<circle cx="470.4" cy="506.0" r="0.92" fill="#9a4a62" opacity="0.4"/>
<circle cx="477.5" cy="528.2" r="0.72" fill="#9a4a62" opacity="0.4"/>
<circle cx="476.2" cy="528.1" r="0.76" fill="#9a4a62" opacity="0.4"/>
<circle cx="467.9" cy="513.9" r="0.87" fill="#9a4a62" opacity="0.4"/>
<circle cx="466.8" cy="514.6" r="0.52" fill="#9a4a62" opacity="0.4"/>
<circle cx="468.0" cy="515.0" r="0.70" fill="#9a4a62" opacity="0.4"/>
<circle cx="467.1" cy="513.8" r="0.52" fill="#9a4a62" opacity="0.4"/>
<circle cx="437.9" cy="531.7" r="0.96" fill="#9a4a62" opacity="0.4"/>
<circle cx="490.6" cy="527.2" r="0.80" fill="#9a4a62" opacity="0.4"/>
<circle cx="490.9" cy="526.5" r="1.11" fill="#9a4a62" opacity="0.4"/>
<circle cx="490.0" cy="527.7" r="0.87" fill="#9a4a62" opacity="0.4"/>
<circle cx="489.9" cy="526.3" r="0.67" fill="#9a4a62" opacity="0.4"/>
<circle cx="450.9" cy="488.7" r="0.66" fill="#9a4a62" opacity="0.4"/>
<circle cx="453.1" cy="479.6" r="1.06" fill="#9a4a62" opacity="0.4"/>
<circle cx="454.5" cy="478.0" r="0.55" fill="#9a4a62" opacity="0.4"/>
<circle cx="457.5" cy="532.8" r="0.57" fill="#9a4a62" opacity="0.4"/>
<circle cx="490.0" cy="530.5" r="0.53" fill="#9a4a62" opacity="0.4"/>
<circle cx="491.1" cy="529.5" r="0.62" fill="#9a4a62" opacity="0.4"/>
<circle cx="492.6" cy="529.4" r="1.02" fill="#9a4a62" opacity="0.4"/>
<circle cx="492.5" cy="530.9" r="1.09" fill="#9a4a62" opacity="0.4"/>
<circle cx="448.3" cy="519.5" r="0.50" fill="#9a4a62" opacity="0.4"/>
<circle cx="450.0" cy="517.6" r="1.13" fill="#9a4a62" opacity="0.4"/>
<circle cx="449.4" cy="518.1" r="0.65" fill="#9a4a62" opacity="0.4"/>
<circle cx="450.1" cy="519.3" r="1.17" fill="#9a4a62" opacity="0.4"/>
<circle cx="466.5" cy="527.9" r="0.94" fill="#9a4a62" opacity="0.4"/>
<circle cx="467.3" cy="527.9" r="0.53" fill="#9a4a62" opacity="0.4"/>
<circle cx="468.4" cy="526.9" r="0.92" fill="#9a4a62" opacity="0.4"/>
<circle cx="462.8" cy="522.1" r="1.06" fill="#9a4a62" opacity="0.4"/>
<circle cx="462.7" cy="523.9" r="1.15" fill="#9a4a62" opacity="0.4"/>
<circle cx="464.7" cy="521.9" r="0.70" fill="#9a4a62" opacity="0.4"/>
<circle cx="457.9" cy="510.5" r="0.77" fill="#9a4a62" opacity="0.4"/>
<circle cx="478.0" cy="499.0" r="0.92" fill="#9a4a62" opacity="0.4"/>
<circle cx="481.0" cy="521.1" r="0.59" fill="#9a4a62" opacity="0.4"/>
<circle cx="482.1" cy="521.2" r="1.19" fill="#9a4a62" opacity="0.4"/>
<circle cx="481.7" cy="521.6" r="1.16" fill="#9a4a62" opacity="0.4"/>
<circle cx="482.8" cy="521.7" r="1.06" fill="#9a4a62" opacity="0.4"/>
<circle cx="482.0" cy="482.4" r="0.55" fill="#9a4a62" opacity="0.4"/>
<circle cx="481.4" cy="480.2" r="0.99" fill="#9a4a62" opacity="0.4"/>
<circle cx="452.6" cy="486.7" r="0.63" fill="#9a4a62" opacity="0.4"/>
<circle cx="452.1" cy="488.1" r="0.83" fill="#9a4a62" opacity="0.4"/>
<circle cx="432.7" cy="514.8" r="0.70" fill="#9a4a62" opacity="0.4"/>
</g>
<text x="233.60" y="483.80" font-size="7.0" text-anchor="middle" font-weight="bold" fill="#1a1a2a" >S</text>
<text x="241.30" y="510.70" font-size="7.0" text-anchor="middle" font-weight="bold" fill="#1a1a2a" >T</text>
<text x="362.00" y="488.00" font-size="7.0" text-anchor="middle" font-weight="bold" fill="#1a1a2a" >T</text>
<text x="349.50" y="500.50" font-size="7.0" text-anchor="middle" font-weight="bold" fill="#1a1a2a" >S</text>
<text x="472.00" y="509.50" font-size="7.0" text-anchor="middle" font-weight="bold" fill="#1a1a2a" >S</text>
<text x="437.50" y="521.30" font-size="7.0" text-anchor="middle" font-weight="bold" fill="#1a1a2a" >T</text>
<text x="267.00" y="561.30" font-size="7.0" text-anchor="middle" font-weight="bold" fill="#1a1a2a" >S</text>
<text x="231.30" y="583.80" font-size="7.0" text-anchor="middle" font-weight="bold" fill="#1a1a2a" >T</text>
<text x="340.80" y="578.80" font-size="7.0" text-anchor="middle" font-weight="bold" fill="#1a1a2a" >S</text>
<text x="362.00" y="577.50" font-size="7.0" text-anchor="middle" font-weight="bold" fill="#1a1a2a" >T</text>
<text x="442.50" y="554.50" font-size="7.0" text-anchor="middle" font-weight="bold" fill="#1a1a2a" >T</text>
<text x="471.30" y="566.30" font-size="7.0" text-anchor="middle" font-weight="bold" fill="#1a1a2a" >S</text>
<line x1="281.00" y1="471.30" x2="294.00" y2="471.30" stroke="#000" stroke-width="1.3" />
<line x1="378.80" y1="471.30" x2="391.30" y2="471.30" stroke="#000" stroke-width="1.3" />
<line x1="478.00" y1="471.30" x2="490.50" y2="471.30" stroke="#000" stroke-width="1.3" />
<line x1="281.00" y1="541.30" x2="294.00" y2="541.30" stroke="#000" stroke-width="1.3" />
<line x1="378.80" y1="541.30" x2="391.30" y2="541.30" stroke="#000" stroke-width="1.3" />
<line x1="478.00" y1="541.30" x2="490.50" y2="541.30" stroke="#000" stroke-width="1.3" />
</svg>
</body></html>
